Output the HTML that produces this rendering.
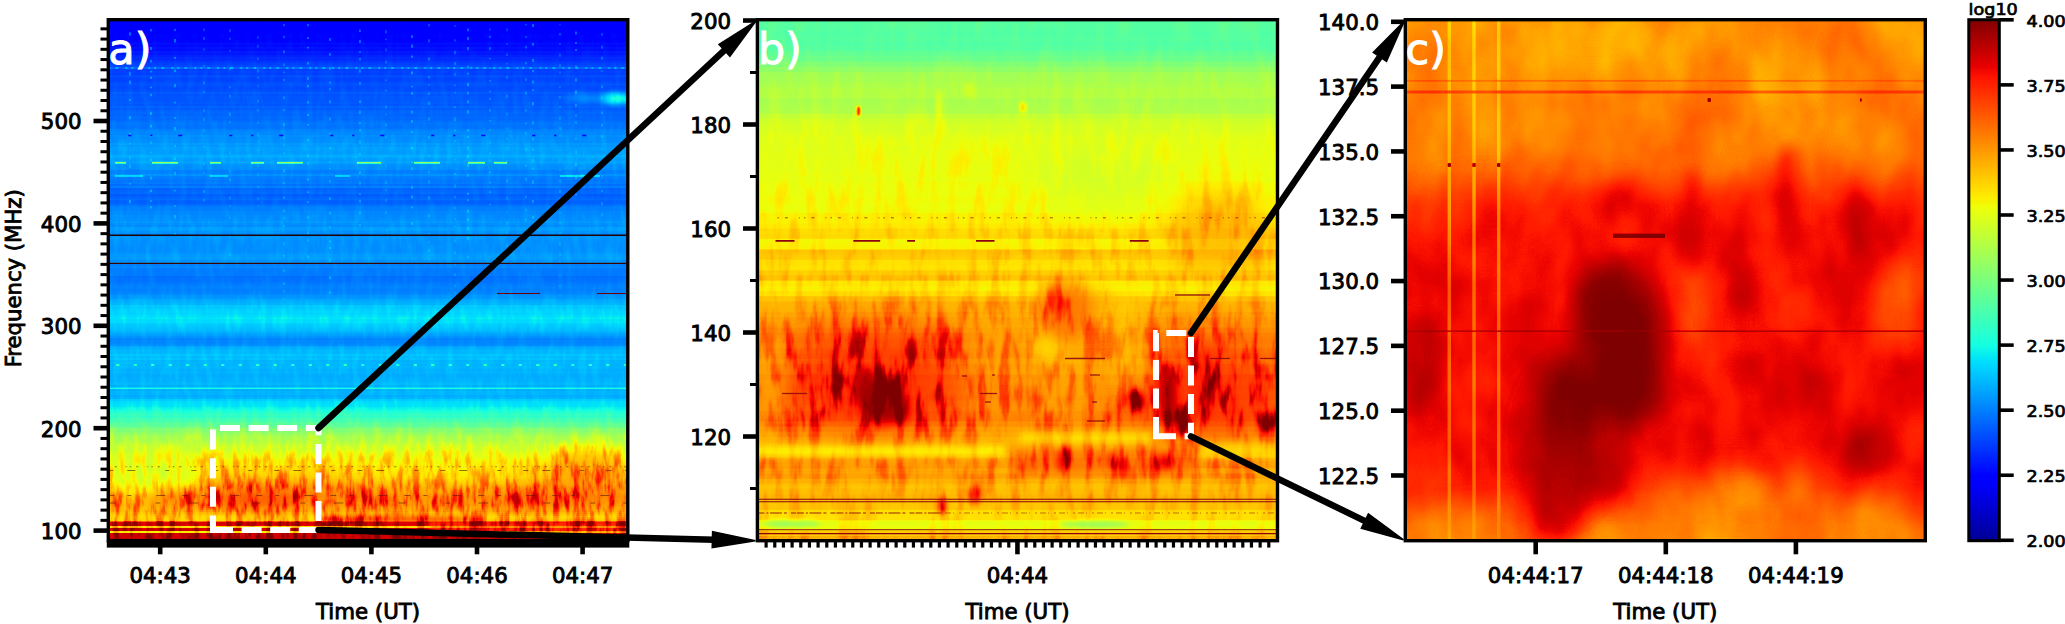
<!DOCTYPE html>
<html><head><meta charset="utf-8"><title>Dynamic spectra</title>
<style>html,body{margin:0;padding:0;background:#fff}svg{display:block}text{font-family:"DejaVu Sans", "Liberation Sans", sans-serif}</style></head><body>
<svg width="2065" height="624" viewBox="0 0 2065 624">
<rect width="2065" height="624" fill="#fff"/>
<defs>
<filter id="bl1" x="-150%" y="-150%" width="400%" height="400%" color-interpolation-filters="sRGB"><feGaussianBlur stdDeviation="1"/></filter>
<filter id="bl2" x="-150%" y="-150%" width="400%" height="400%" color-interpolation-filters="sRGB"><feGaussianBlur stdDeviation="2"/></filter>
<filter id="bl3" x="-150%" y="-150%" width="400%" height="400%" color-interpolation-filters="sRGB"><feGaussianBlur stdDeviation="3"/></filter>
<filter id="bl4" x="-150%" y="-150%" width="400%" height="400%" color-interpolation-filters="sRGB"><feGaussianBlur stdDeviation="4"/></filter>
<filter id="bl6" x="-150%" y="-150%" width="400%" height="400%" color-interpolation-filters="sRGB"><feGaussianBlur stdDeviation="6"/></filter>
<filter id="bl8" x="-150%" y="-150%" width="400%" height="400%" color-interpolation-filters="sRGB"><feGaussianBlur stdDeviation="8"/></filter>
<filter id="bl12" x="-150%" y="-150%" width="400%" height="400%" color-interpolation-filters="sRGB"><feGaussianBlur stdDeviation="12"/></filter>
<filter id="bl16" x="-150%" y="-150%" width="400%" height="400%" color-interpolation-filters="sRGB"><feGaussianBlur stdDeviation="16"/></filter>
<filter id="bl24" x="-150%" y="-150%" width="400%" height="400%" color-interpolation-filters="sRGB"><feGaussianBlur stdDeviation="24"/></filter>
<filter id="bl32" x="-150%" y="-150%" width="400%" height="400%" color-interpolation-filters="sRGB"><feGaussianBlur stdDeviation="32"/></filter>
<linearGradient id="ga" gradientUnits="userSpaceOnUse" x1="0" y1="20" x2="0" y2="541"><stop offset="0.0006" stop-color="#212121"/><stop offset="0.0034" stop-color="#212121"/><stop offset="0.0045" stop-color="#1f1f1f"/><stop offset="0.0073" stop-color="#1f1f1f"/><stop offset="0.0084" stop-color="#1e1e1e"/><stop offset="0.0112" stop-color="#1e1e1e"/><stop offset="0.0124" stop-color="#1f1f1f"/><stop offset="0.0152" stop-color="#1f1f1f"/><stop offset="0.0163" stop-color="#1e1e1e"/><stop offset="0.0191" stop-color="#1e1e1e"/><stop offset="0.0202" stop-color="#1f1f1f"/><stop offset="0.0230" stop-color="#1f1f1f"/><stop offset="0.0242" stop-color="#202020"/><stop offset="0.0270" stop-color="#202020"/><stop offset="0.0281" stop-color="#212121"/><stop offset="0.0309" stop-color="#212121"/><stop offset="0.0321" stop-color="#212121"/><stop offset="0.0348" stop-color="#212121"/><stop offset="0.0360" stop-color="#202020"/><stop offset="0.0388" stop-color="#202020"/><stop offset="0.0399" stop-color="#212121"/><stop offset="0.0427" stop-color="#212121"/><stop offset="0.0439" stop-color="#242424"/><stop offset="0.0466" stop-color="#242424"/><stop offset="0.0478" stop-color="#222222"/><stop offset="0.0506" stop-color="#222222"/><stop offset="0.0517" stop-color="#252525"/><stop offset="0.0545" stop-color="#252525"/><stop offset="0.0557" stop-color="#232323"/><stop offset="0.0584" stop-color="#232323"/><stop offset="0.0596" stop-color="#272727"/><stop offset="0.0624" stop-color="#272727"/><stop offset="0.0635" stop-color="#262626"/><stop offset="0.0663" stop-color="#262626"/><stop offset="0.0675" stop-color="#292929"/><stop offset="0.0702" stop-color="#292929"/><stop offset="0.0714" stop-color="#2b2b2b"/><stop offset="0.0742" stop-color="#2b2b2b"/><stop offset="0.0753" stop-color="#2b2b2b"/><stop offset="0.0781" stop-color="#2b2b2b"/><stop offset="0.0793" stop-color="#2e2e2e"/><stop offset="0.0821" stop-color="#2e2e2e"/><stop offset="0.0832" stop-color="#303030"/><stop offset="0.0860" stop-color="#303030"/><stop offset="0.0871" stop-color="#323232"/><stop offset="0.0899" stop-color="#323232"/><stop offset="0.0911" stop-color="#393939"/><stop offset="0.0939" stop-color="#393939"/><stop offset="0.0950" stop-color="#303030"/><stop offset="0.0978" stop-color="#303030"/><stop offset="0.0989" stop-color="#313131"/><stop offset="0.1017" stop-color="#313131"/><stop offset="0.1029" stop-color="#303030"/><stop offset="0.1057" stop-color="#303030"/><stop offset="0.1068" stop-color="#343434"/><stop offset="0.1096" stop-color="#343434"/><stop offset="0.1107" stop-color="#313131"/><stop offset="0.1135" stop-color="#313131"/><stop offset="0.1147" stop-color="#313131"/><stop offset="0.1175" stop-color="#313131"/><stop offset="0.1186" stop-color="#333333"/><stop offset="0.1214" stop-color="#333333"/><stop offset="0.1226" stop-color="#353535"/><stop offset="0.1253" stop-color="#353535"/><stop offset="0.1265" stop-color="#333333"/><stop offset="0.1293" stop-color="#333333"/><stop offset="0.1304" stop-color="#333333"/><stop offset="0.1332" stop-color="#333333"/><stop offset="0.1344" stop-color="#343434"/><stop offset="0.1371" stop-color="#343434"/><stop offset="0.1383" stop-color="#373737"/><stop offset="0.1411" stop-color="#373737"/><stop offset="0.1422" stop-color="#353535"/><stop offset="0.1450" stop-color="#353535"/><stop offset="0.1462" stop-color="#363636"/><stop offset="0.1489" stop-color="#363636"/><stop offset="0.1501" stop-color="#363636"/><stop offset="0.1529" stop-color="#363636"/><stop offset="0.1540" stop-color="#363636"/><stop offset="0.1568" stop-color="#363636"/><stop offset="0.1580" stop-color="#373737"/><stop offset="0.1607" stop-color="#373737"/><stop offset="0.1619" stop-color="#363636"/><stop offset="0.1647" stop-color="#363636"/><stop offset="0.1658" stop-color="#393939"/><stop offset="0.1686" stop-color="#393939"/><stop offset="0.1698" stop-color="#373737"/><stop offset="0.1726" stop-color="#373737"/><stop offset="0.1737" stop-color="#393939"/><stop offset="0.1765" stop-color="#393939"/><stop offset="0.1776" stop-color="#3a3a3a"/><stop offset="0.1804" stop-color="#3a3a3a"/><stop offset="0.1816" stop-color="#393939"/><stop offset="0.1844" stop-color="#393939"/><stop offset="0.1855" stop-color="#3b3b3b"/><stop offset="0.1883" stop-color="#3b3b3b"/><stop offset="0.1894" stop-color="#3a3a3a"/><stop offset="0.1922" stop-color="#3a3a3a"/><stop offset="0.1934" stop-color="#3c3c3c"/><stop offset="0.1962" stop-color="#3c3c3c"/><stop offset="0.1973" stop-color="#3e3e3e"/><stop offset="0.2001" stop-color="#3e3e3e"/><stop offset="0.2012" stop-color="#3d3d3d"/><stop offset="0.2040" stop-color="#3d3d3d"/><stop offset="0.2052" stop-color="#3d3d3d"/><stop offset="0.2080" stop-color="#3d3d3d"/><stop offset="0.2091" stop-color="#404040"/><stop offset="0.2119" stop-color="#404040"/><stop offset="0.2131" stop-color="#424242"/><stop offset="0.2158" stop-color="#424242"/><stop offset="0.2170" stop-color="#424242"/><stop offset="0.2198" stop-color="#424242"/><stop offset="0.2209" stop-color="#444444"/><stop offset="0.2237" stop-color="#444444"/><stop offset="0.2249" stop-color="#434343"/><stop offset="0.2276" stop-color="#434343"/><stop offset="0.2288" stop-color="#444444"/><stop offset="0.2316" stop-color="#444444"/><stop offset="0.2327" stop-color="#444444"/><stop offset="0.2355" stop-color="#444444"/><stop offset="0.2367" stop-color="#474747"/><stop offset="0.2394" stop-color="#474747"/><stop offset="0.2406" stop-color="#464646"/><stop offset="0.2434" stop-color="#464646"/><stop offset="0.2445" stop-color="#484848"/><stop offset="0.2473" stop-color="#484848"/><stop offset="0.2485" stop-color="#484848"/><stop offset="0.2512" stop-color="#484848"/><stop offset="0.2524" stop-color="#474747"/><stop offset="0.2552" stop-color="#474747"/><stop offset="0.2563" stop-color="#484848"/><stop offset="0.2591" stop-color="#484848"/><stop offset="0.2603" stop-color="#4c4c4c"/><stop offset="0.2631" stop-color="#4c4c4c"/><stop offset="0.2642" stop-color="#484848"/><stop offset="0.2670" stop-color="#484848"/><stop offset="0.2681" stop-color="#474747"/><stop offset="0.2709" stop-color="#474747"/><stop offset="0.2721" stop-color="#494949"/><stop offset="0.2749" stop-color="#494949"/><stop offset="0.2760" stop-color="#454545"/><stop offset="0.2788" stop-color="#454545"/><stop offset="0.2799" stop-color="#444444"/><stop offset="0.2827" stop-color="#444444"/><stop offset="0.2839" stop-color="#444444"/><stop offset="0.2867" stop-color="#444444"/><stop offset="0.2878" stop-color="#404040"/><stop offset="0.2906" stop-color="#404040"/><stop offset="0.2917" stop-color="#404040"/><stop offset="0.2945" stop-color="#404040"/><stop offset="0.2957" stop-color="#444444"/><stop offset="0.2985" stop-color="#444444"/><stop offset="0.2996" stop-color="#404040"/><stop offset="0.3024" stop-color="#404040"/><stop offset="0.3036" stop-color="#3f3f3f"/><stop offset="0.3063" stop-color="#3f3f3f"/><stop offset="0.3075" stop-color="#3e3e3e"/><stop offset="0.3103" stop-color="#3e3e3e"/><stop offset="0.3114" stop-color="#3f3f3f"/><stop offset="0.3142" stop-color="#3f3f3f"/><stop offset="0.3154" stop-color="#3c3c3c"/><stop offset="0.3181" stop-color="#3c3c3c"/><stop offset="0.3193" stop-color="#404040"/><stop offset="0.3221" stop-color="#404040"/><stop offset="0.3232" stop-color="#393939"/><stop offset="0.3260" stop-color="#393939"/><stop offset="0.3272" stop-color="#3a3a3a"/><stop offset="0.3299" stop-color="#3a3a3a"/><stop offset="0.3311" stop-color="#3b3b3b"/><stop offset="0.3339" stop-color="#3b3b3b"/><stop offset="0.3350" stop-color="#373737"/><stop offset="0.3378" stop-color="#373737"/><stop offset="0.3390" stop-color="#393939"/><stop offset="0.3417" stop-color="#393939"/><stop offset="0.3429" stop-color="#3b3b3b"/><stop offset="0.3457" stop-color="#3b3b3b"/><stop offset="0.3468" stop-color="#383838"/><stop offset="0.3496" stop-color="#383838"/><stop offset="0.3508" stop-color="#393939"/><stop offset="0.3536" stop-color="#393939"/><stop offset="0.3547" stop-color="#3d3d3d"/><stop offset="0.3575" stop-color="#3d3d3d"/><stop offset="0.3586" stop-color="#404040"/><stop offset="0.3614" stop-color="#404040"/><stop offset="0.3626" stop-color="#404040"/><stop offset="0.3654" stop-color="#404040"/><stop offset="0.3665" stop-color="#424242"/><stop offset="0.3693" stop-color="#424242"/><stop offset="0.3704" stop-color="#424242"/><stop offset="0.3732" stop-color="#424242"/><stop offset="0.3744" stop-color="#434343"/><stop offset="0.3772" stop-color="#434343"/><stop offset="0.3783" stop-color="#434343"/><stop offset="0.3811" stop-color="#434343"/><stop offset="0.3822" stop-color="#444444"/><stop offset="0.3850" stop-color="#444444"/><stop offset="0.3862" stop-color="#464646"/><stop offset="0.3890" stop-color="#464646"/><stop offset="0.3901" stop-color="#444444"/><stop offset="0.3929" stop-color="#444444"/><stop offset="0.3940" stop-color="#434343"/><stop offset="0.3968" stop-color="#434343"/><stop offset="0.3980" stop-color="#474747"/><stop offset="0.4008" stop-color="#474747"/><stop offset="0.4019" stop-color="#474747"/><stop offset="0.4047" stop-color="#474747"/><stop offset="0.4059" stop-color="#444444"/><stop offset="0.4086" stop-color="#444444"/><stop offset="0.4098" stop-color="#434343"/><stop offset="0.4126" stop-color="#434343"/><stop offset="0.4137" stop-color="#434343"/><stop offset="0.4165" stop-color="#434343"/><stop offset="0.4177" stop-color="#464646"/><stop offset="0.4204" stop-color="#464646"/><stop offset="0.4216" stop-color="#444444"/><stop offset="0.4244" stop-color="#444444"/><stop offset="0.4255" stop-color="#444444"/><stop offset="0.4283" stop-color="#444444"/><stop offset="0.4295" stop-color="#444444"/><stop offset="0.4322" stop-color="#444444"/><stop offset="0.4334" stop-color="#444444"/><stop offset="0.4362" stop-color="#444444"/><stop offset="0.4373" stop-color="#444444"/><stop offset="0.4401" stop-color="#444444"/><stop offset="0.4413" stop-color="#444444"/><stop offset="0.4440" stop-color="#444444"/><stop offset="0.4452" stop-color="#454545"/><stop offset="0.4480" stop-color="#454545"/><stop offset="0.4491" stop-color="#474747"/><stop offset="0.4519" stop-color="#474747"/><stop offset="0.4531" stop-color="#474747"/><stop offset="0.4559" stop-color="#474747"/><stop offset="0.4570" stop-color="#474747"/><stop offset="0.4598" stop-color="#474747"/><stop offset="0.4609" stop-color="#444444"/><stop offset="0.4637" stop-color="#444444"/><stop offset="0.4649" stop-color="#484848"/><stop offset="0.4677" stop-color="#484848"/><stop offset="0.4688" stop-color="#404040"/><stop offset="0.4716" stop-color="#404040"/><stop offset="0.4727" stop-color="#424242"/><stop offset="0.4755" stop-color="#424242"/><stop offset="0.4767" stop-color="#3f3f3f"/><stop offset="0.4795" stop-color="#3f3f3f"/><stop offset="0.4806" stop-color="#3f3f3f"/><stop offset="0.4834" stop-color="#3f3f3f"/><stop offset="0.4845" stop-color="#3f3f3f"/><stop offset="0.4873" stop-color="#3f3f3f"/><stop offset="0.4885" stop-color="#3f3f3f"/><stop offset="0.4913" stop-color="#3f3f3f"/><stop offset="0.4924" stop-color="#3c3c3c"/><stop offset="0.4952" stop-color="#3c3c3c"/><stop offset="0.4964" stop-color="#3d3d3d"/><stop offset="0.4991" stop-color="#3d3d3d"/><stop offset="0.5003" stop-color="#3d3d3d"/><stop offset="0.5031" stop-color="#3d3d3d"/><stop offset="0.5042" stop-color="#3f3f3f"/><stop offset="0.5070" stop-color="#3f3f3f"/><stop offset="0.5082" stop-color="#404040"/><stop offset="0.5109" stop-color="#404040"/><stop offset="0.5121" stop-color="#414141"/><stop offset="0.5149" stop-color="#414141"/><stop offset="0.5160" stop-color="#404040"/><stop offset="0.5188" stop-color="#404040"/><stop offset="0.5200" stop-color="#414141"/><stop offset="0.5227" stop-color="#414141"/><stop offset="0.5239" stop-color="#424242"/><stop offset="0.5267" stop-color="#424242"/><stop offset="0.5278" stop-color="#454545"/><stop offset="0.5306" stop-color="#454545"/><stop offset="0.5318" stop-color="#464646"/><stop offset="0.5345" stop-color="#464646"/><stop offset="0.5357" stop-color="#4a4a4a"/><stop offset="0.5385" stop-color="#4a4a4a"/><stop offset="0.5396" stop-color="#4c4c4c"/><stop offset="0.5424" stop-color="#4c4c4c"/><stop offset="0.5436" stop-color="#4d4d4d"/><stop offset="0.5464" stop-color="#4d4d4d"/><stop offset="0.5475" stop-color="#525252"/><stop offset="0.5503" stop-color="#525252"/><stop offset="0.5514" stop-color="#525252"/><stop offset="0.5542" stop-color="#525252"/><stop offset="0.5554" stop-color="#545454"/><stop offset="0.5582" stop-color="#545454"/><stop offset="0.5593" stop-color="#555555"/><stop offset="0.5621" stop-color="#555555"/><stop offset="0.5632" stop-color="#555555"/><stop offset="0.5660" stop-color="#555555"/><stop offset="0.5672" stop-color="#575757"/><stop offset="0.5700" stop-color="#575757"/><stop offset="0.5711" stop-color="#5a5a5a"/><stop offset="0.5739" stop-color="#5a5a5a"/><stop offset="0.5750" stop-color="#575757"/><stop offset="0.5778" stop-color="#575757"/><stop offset="0.5790" stop-color="#575757"/><stop offset="0.5818" stop-color="#575757"/><stop offset="0.5829" stop-color="#535353"/><stop offset="0.5857" stop-color="#535353"/><stop offset="0.5869" stop-color="#525252"/><stop offset="0.5896" stop-color="#525252"/><stop offset="0.5908" stop-color="#505050"/><stop offset="0.5936" stop-color="#505050"/><stop offset="0.5947" stop-color="#4f4f4f"/><stop offset="0.5975" stop-color="#4f4f4f"/><stop offset="0.5987" stop-color="#4b4b4b"/><stop offset="0.6014" stop-color="#4b4b4b"/><stop offset="0.6026" stop-color="#484848"/><stop offset="0.6054" stop-color="#484848"/><stop offset="0.6065" stop-color="#454545"/><stop offset="0.6093" stop-color="#454545"/><stop offset="0.6105" stop-color="#414141"/><stop offset="0.6132" stop-color="#414141"/><stop offset="0.6144" stop-color="#424242"/><stop offset="0.6172" stop-color="#424242"/><stop offset="0.6183" stop-color="#424242"/><stop offset="0.6211" stop-color="#424242"/><stop offset="0.6223" stop-color="#434343"/><stop offset="0.6250" stop-color="#434343"/><stop offset="0.6262" stop-color="#4a4a4a"/><stop offset="0.6290" stop-color="#4a4a4a"/><stop offset="0.6301" stop-color="#4c4c4c"/><stop offset="0.6329" stop-color="#4c4c4c"/><stop offset="0.6341" stop-color="#4e4e4e"/><stop offset="0.6369" stop-color="#4e4e4e"/><stop offset="0.6380" stop-color="#4e4e4e"/><stop offset="0.6408" stop-color="#4e4e4e"/><stop offset="0.6419" stop-color="#515151"/><stop offset="0.6447" stop-color="#515151"/><stop offset="0.6459" stop-color="#4f4f4f"/><stop offset="0.6487" stop-color="#4f4f4f"/><stop offset="0.6498" stop-color="#505050"/><stop offset="0.6526" stop-color="#505050"/><stop offset="0.6537" stop-color="#4d4d4d"/><stop offset="0.6565" stop-color="#4d4d4d"/><stop offset="0.6577" stop-color="#4e4e4e"/><stop offset="0.6605" stop-color="#4e4e4e"/><stop offset="0.6616" stop-color="#4d4d4d"/><stop offset="0.6644" stop-color="#4d4d4d"/><stop offset="0.6655" stop-color="#4e4e4e"/><stop offset="0.6683" stop-color="#4e4e4e"/><stop offset="0.6695" stop-color="#4c4c4c"/><stop offset="0.6723" stop-color="#4c4c4c"/><stop offset="0.6734" stop-color="#4d4d4d"/><stop offset="0.6762" stop-color="#4d4d4d"/><stop offset="0.6774" stop-color="#4c4c4c"/><stop offset="0.6801" stop-color="#4c4c4c"/><stop offset="0.6813" stop-color="#4b4b4b"/><stop offset="0.6841" stop-color="#4b4b4b"/><stop offset="0.6852" stop-color="#4c4c4c"/><stop offset="0.6880" stop-color="#4c4c4c"/><stop offset="0.6892" stop-color="#4c4c4c"/><stop offset="0.6919" stop-color="#4c4c4c"/><stop offset="0.6931" stop-color="#4d4d4d"/><stop offset="0.6959" stop-color="#4d4d4d"/><stop offset="0.6970" stop-color="#4e4e4e"/><stop offset="0.6998" stop-color="#4e4e4e"/><stop offset="0.7010" stop-color="#4c4c4c"/><stop offset="0.7037" stop-color="#4c4c4c"/><stop offset="0.7049" stop-color="#4d4d4d"/><stop offset="0.7077" stop-color="#4d4d4d"/><stop offset="0.7088" stop-color="#4c4c4c"/><stop offset="0.7116" stop-color="#4c4c4c"/><stop offset="0.7128" stop-color="#4d4d4d"/><stop offset="0.7155" stop-color="#4d4d4d"/><stop offset="0.7167" stop-color="#4d4d4d"/><stop offset="0.7195" stop-color="#4d4d4d"/><stop offset="0.7206" stop-color="#4b4b4b"/><stop offset="0.7234" stop-color="#4b4b4b"/><stop offset="0.7246" stop-color="#4d4d4d"/><stop offset="0.7274" stop-color="#4d4d4d"/><stop offset="0.7285" stop-color="#535353"/><stop offset="0.7313" stop-color="#535353"/><stop offset="0.7324" stop-color="#575757"/><stop offset="0.7352" stop-color="#575757"/><stop offset="0.7364" stop-color="#585858"/><stop offset="0.7392" stop-color="#585858"/><stop offset="0.7403" stop-color="#5a5a5a"/><stop offset="0.7431" stop-color="#5a5a5a"/><stop offset="0.7442" stop-color="#5e5e5e"/><stop offset="0.7470" stop-color="#5e5e5e"/><stop offset="0.7482" stop-color="#616161"/><stop offset="0.7510" stop-color="#616161"/><stop offset="0.7521" stop-color="#656565"/><stop offset="0.7549" stop-color="#656565"/><stop offset="0.7560" stop-color="#696969"/><stop offset="0.7588" stop-color="#696969"/><stop offset="0.7600" stop-color="#686868"/><stop offset="0.7628" stop-color="#686868"/><stop offset="0.7639" stop-color="#6d6d6d"/><stop offset="0.7667" stop-color="#6d6d6d"/><stop offset="0.7679" stop-color="#6f6f6f"/><stop offset="0.7706" stop-color="#6f6f6f"/><stop offset="0.7718" stop-color="#747474"/><stop offset="0.7746" stop-color="#747474"/><stop offset="0.7757" stop-color="#767676"/><stop offset="0.7785" stop-color="#767676"/><stop offset="0.7797" stop-color="#7a7a7a"/><stop offset="0.7824" stop-color="#7a7a7a"/><stop offset="0.7836" stop-color="#838383"/><stop offset="0.7864" stop-color="#838383"/><stop offset="0.7875" stop-color="#848484"/><stop offset="0.7903" stop-color="#848484"/><stop offset="0.7915" stop-color="#878787"/><stop offset="0.7942" stop-color="#878787"/><stop offset="0.7954" stop-color="#8b8b8b"/><stop offset="0.7982" stop-color="#8b8b8b"/><stop offset="0.7993" stop-color="#8f8f8f"/><stop offset="0.8021" stop-color="#8f8f8f"/><stop offset="0.8033" stop-color="#909090"/><stop offset="0.8060" stop-color="#909090"/><stop offset="0.8072" stop-color="#919191"/><stop offset="0.8100" stop-color="#919191"/><stop offset="0.8111" stop-color="#959595"/><stop offset="0.8139" stop-color="#959595"/><stop offset="0.8151" stop-color="#979797"/><stop offset="0.8179" stop-color="#979797"/><stop offset="0.8190" stop-color="#9a9a9a"/><stop offset="0.8218" stop-color="#9a9a9a"/><stop offset="0.8229" stop-color="#9a9a9a"/><stop offset="0.8257" stop-color="#9a9a9a"/><stop offset="0.8269" stop-color="#9e9e9e"/><stop offset="0.8297" stop-color="#9e9e9e"/><stop offset="0.8308" stop-color="#a1a1a1"/><stop offset="0.8336" stop-color="#a1a1a1"/><stop offset="0.8347" stop-color="#a4a4a4"/><stop offset="0.8375" stop-color="#a4a4a4"/><stop offset="0.8387" stop-color="#a6a6a6"/><stop offset="0.8415" stop-color="#a6a6a6"/><stop offset="0.8426" stop-color="#a9a9a9"/><stop offset="0.8454" stop-color="#a9a9a9"/><stop offset="0.8465" stop-color="#ababab"/><stop offset="0.8493" stop-color="#ababab"/><stop offset="0.8505" stop-color="#acacac"/><stop offset="0.8533" stop-color="#acacac"/><stop offset="0.8544" stop-color="#b0b0b0"/><stop offset="0.8572" stop-color="#b0b0b0"/><stop offset="0.8583" stop-color="#b1b1b1"/><stop offset="0.8611" stop-color="#b1b1b1"/><stop offset="0.8623" stop-color="#b3b3b3"/><stop offset="0.8651" stop-color="#b3b3b3"/><stop offset="0.8662" stop-color="#b4b4b4"/><stop offset="0.8690" stop-color="#b4b4b4"/><stop offset="0.8702" stop-color="#b6b6b6"/><stop offset="0.8729" stop-color="#b6b6b6"/><stop offset="0.8741" stop-color="#b8b8b8"/><stop offset="0.8769" stop-color="#b8b8b8"/><stop offset="0.8780" stop-color="#bababa"/><stop offset="0.8808" stop-color="#bababa"/><stop offset="0.8820" stop-color="#bebebe"/><stop offset="0.8847" stop-color="#bebebe"/><stop offset="0.8859" stop-color="#c1c1c1"/><stop offset="0.8887" stop-color="#c1c1c1"/><stop offset="0.8898" stop-color="#c4c4c4"/><stop offset="0.8926" stop-color="#c4c4c4"/><stop offset="0.8938" stop-color="#c8c8c8"/><stop offset="0.8965" stop-color="#c8c8c8"/><stop offset="0.8977" stop-color="#cbcbcb"/><stop offset="0.9005" stop-color="#cbcbcb"/><stop offset="0.9016" stop-color="#cbcbcb"/><stop offset="0.9044" stop-color="#cbcbcb"/><stop offset="0.9056" stop-color="#cbcbcb"/><stop offset="0.9083" stop-color="#cbcbcb"/><stop offset="0.9095" stop-color="#cdcdcd"/><stop offset="0.9123" stop-color="#cdcdcd"/><stop offset="0.9134" stop-color="#cfcfcf"/><stop offset="0.9162" stop-color="#cfcfcf"/><stop offset="0.9174" stop-color="#cdcdcd"/><stop offset="0.9202" stop-color="#cdcdcd"/><stop offset="0.9213" stop-color="#cdcdcd"/><stop offset="0.9241" stop-color="#cdcdcd"/><stop offset="0.9252" stop-color="#cbcbcb"/><stop offset="0.9280" stop-color="#cbcbcb"/><stop offset="0.9292" stop-color="#cacaca"/><stop offset="0.9320" stop-color="#cacaca"/><stop offset="0.9331" stop-color="#c6c6c6"/><stop offset="0.9359" stop-color="#c6c6c6"/><stop offset="0.9370" stop-color="#c3c3c3"/><stop offset="0.9398" stop-color="#c3c3c3"/><stop offset="0.9410" stop-color="#c1c1c1"/><stop offset="0.9438" stop-color="#c1c1c1"/><stop offset="0.9449" stop-color="#bcbcbc"/><stop offset="0.9477" stop-color="#bcbcbc"/><stop offset="0.9488" stop-color="#b8b8b8"/><stop offset="0.9516" stop-color="#b8b8b8"/><stop offset="0.9528" stop-color="#b5b5b5"/><stop offset="0.9556" stop-color="#b5b5b5"/><stop offset="0.9567" stop-color="#b5b5b5"/><stop offset="0.9595" stop-color="#b5b5b5"/><stop offset="0.9616" stop-color="#b5b5b5"/><stop offset="0.9635" stop-color="#f2f2f2"/><stop offset="0.9702" stop-color="#f2f2f2"/><stop offset="0.9712" stop-color="#b2b2b2"/><stop offset="0.9750" stop-color="#b2b2b2"/><stop offset="0.9760" stop-color="#f2f2f2"/><stop offset="0.9808" stop-color="#f2f2f2"/><stop offset="0.9818" stop-color="#a8a8a8"/><stop offset="0.9846" stop-color="#a8a8a8"/><stop offset="0.9856" stop-color="#f2f2f2"/><stop offset="1.0000" stop-color="#f5f5f5"/></linearGradient>
<clipPath id="ca"><rect x="108.3" y="19.7" width="519.5" height="521"/></clipPath>
<filter id="ja" filterUnits="userSpaceOnUse" x="106.3" y="17.7" width="523.5" height="525" color-interpolation-filters="sRGB"><feTurbulence type="fractalNoise" baseFrequency="0.15 0.045" numOctaves="3" seed="3" result="n0"/><feColorMatrix in="n0" type="matrix" values="1 0 0 0 0  1 0 0 0 0  1 0 0 0 0  0 0 0 0 1" result="n1"/><feComponentTransfer in="n1" result="n1"><feFuncR type="table" tableValues="0.000 0.000 0.000 0.000 0.050 0.250 0.600 0.900 1.000 1.000 1.000"/><feFuncG type="table" tableValues="0.000 0.000 0.000 0.000 0.050 0.250 0.600 0.900 1.000 1.000 1.000"/><feFuncB type="table" tableValues="0.000 0.000 0.000 0.000 0.050 0.250 0.600 0.900 1.000 1.000 1.000"/></feComponentTransfer><feComponentTransfer in="SourceGraphic" result="m"><feFuncR type="table" tableValues="0.000 0.010 0.012 0.018 0.030 0.040 0.060 0.120 0.190 0.170 0.050"/><feFuncG type="table" tableValues="0.000 0.010 0.012 0.018 0.030 0.040 0.060 0.120 0.190 0.170 0.050"/><feFuncB type="table" tableValues="0.000 0.010 0.012 0.018 0.030 0.040 0.060 0.120 0.190 0.170 0.050"/></feComponentTransfer><feComposite in="m" in2="n1" operator="arithmetic" k1="1" k2="0" k3="0" k4="0" result="t"/><feComposite in="SourceGraphic" in2="m" operator="arithmetic" k1="0" k2="1" k3="-0.27" k4="0" result="u"/><feComposite in="u" in2="t" operator="arithmetic" k1="0" k2="1" k3="1" k4="0" result="r"/><feComponentTransfer in="r"><feFuncR type="table" tableValues="0.000 0.000 0.000 0.000 0.000 0.000 0.000 0.000 0.000 0.000 0.000 0.000 0.000 0.000 0.000 0.000 0.000 0.000 0.000 0.000 0.000 0.000 0.000 0.000 0.000 0.000 0.000 0.000 0.000 0.040 0.081 0.121 0.161 0.202 0.242 0.282 0.323 0.363 0.403 0.444 0.484 0.524 0.565 0.605 0.645 0.685 0.726 0.766 0.806 0.847 0.887 0.927 0.968 1.000 1.000 1.000 1.000 1.000 1.000 1.000 1.000 1.000 1.000 1.000 1.000 1.000 1.000 1.000 1.000 1.000 1.000 1.000 0.955 0.898 0.841 0.784 0.727 0.670 0.614 0.557 0.500"/><feFuncG type="table" tableValues="0.000 0.000 0.000 0.000 0.000 0.000 0.000 0.000 0.000 0.000 0.000 0.050 0.100 0.150 0.200 0.250 0.300 0.350 0.400 0.450 0.500 0.550 0.600 0.650 0.700 0.750 0.800 0.850 0.900 0.950 1.000 1.000 1.000 1.000 1.000 1.000 1.000 1.000 1.000 1.000 1.000 1.000 1.000 1.000 1.000 1.000 1.000 1.000 1.000 1.000 1.000 1.000 0.963 0.917 0.870 0.824 0.778 0.731 0.685 0.639 0.593 0.546 0.500 0.454 0.407 0.361 0.315 0.269 0.222 0.176 0.130 0.083 0.037 0.000 0.000 0.000 0.000 0.000 0.000 0.000 0.000"/><feFuncB type="table" tableValues="0.500 0.557 0.614 0.670 0.727 0.784 0.841 0.898 0.955 1.000 1.000 1.000 1.000 1.000 1.000 1.000 1.000 1.000 1.000 1.000 1.000 1.000 1.000 1.000 1.000 1.000 1.000 1.000 0.968 0.927 0.887 0.847 0.806 0.766 0.726 0.685 0.645 0.605 0.565 0.524 0.484 0.444 0.403 0.363 0.323 0.282 0.242 0.202 0.161 0.121 0.081 0.040 0.000 0.000 0.000 0.000 0.000 0.000 0.000 0.000 0.000 0.000 0.000 0.000 0.000 0.000 0.000 0.000 0.000 0.000 0.000 0.000 0.000 0.000 0.000 0.000 0.000 0.000 0.000 0.000 0.000"/><feFuncA type="linear" slope="0" intercept="1"/></feComponentTransfer></filter>
<linearGradient id="gb" gradientUnits="userSpaceOnUse" x1="0" y1="20" x2="0" y2="541"><stop offset="0.0012" stop-color="#747474"/><stop offset="0.0088" stop-color="#747474"/><stop offset="0.0112" stop-color="#747474"/><stop offset="0.0188" stop-color="#747474"/><stop offset="0.0212" stop-color="#737373"/><stop offset="0.0288" stop-color="#737373"/><stop offset="0.0312" stop-color="#747474"/><stop offset="0.0388" stop-color="#747474"/><stop offset="0.0412" stop-color="#737373"/><stop offset="0.0488" stop-color="#737373"/><stop offset="0.0512" stop-color="#747474"/><stop offset="0.0589" stop-color="#747474"/><stop offset="0.0612" stop-color="#787878"/><stop offset="0.0689" stop-color="#787878"/><stop offset="0.0712" stop-color="#7b7b7b"/><stop offset="0.0789" stop-color="#7b7b7b"/><stop offset="0.0812" stop-color="#818181"/><stop offset="0.0889" stop-color="#818181"/><stop offset="0.0912" stop-color="#868686"/><stop offset="0.0989" stop-color="#868686"/><stop offset="0.1012" stop-color="#8c8c8c"/><stop offset="0.1089" stop-color="#8c8c8c"/><stop offset="0.1112" stop-color="#8d8d8d"/><stop offset="0.1189" stop-color="#8d8d8d"/><stop offset="0.1212" stop-color="#8f8f8f"/><stop offset="0.1289" stop-color="#8f8f8f"/><stop offset="0.1312" stop-color="#919191"/><stop offset="0.1389" stop-color="#919191"/><stop offset="0.1412" stop-color="#919191"/><stop offset="0.1489" stop-color="#919191"/><stop offset="0.1512" stop-color="#8e8e8e"/><stop offset="0.1589" stop-color="#8e8e8e"/><stop offset="0.1612" stop-color="#8f8f8f"/><stop offset="0.1689" stop-color="#8f8f8f"/><stop offset="0.1712" stop-color="#909090"/><stop offset="0.1789" stop-color="#909090"/><stop offset="0.1812" stop-color="#969696"/><stop offset="0.1889" stop-color="#969696"/><stop offset="0.1912" stop-color="#9a9a9a"/><stop offset="0.1989" stop-color="#9a9a9a"/><stop offset="0.2012" stop-color="#9c9c9c"/><stop offset="0.2089" stop-color="#9c9c9c"/><stop offset="0.2113" stop-color="#9d9d9d"/><stop offset="0.2189" stop-color="#9d9d9d"/><stop offset="0.2213" stop-color="#9f9f9f"/><stop offset="0.2289" stop-color="#9f9f9f"/><stop offset="0.2313" stop-color="#a0a0a0"/><stop offset="0.2389" stop-color="#a0a0a0"/><stop offset="0.2413" stop-color="#a0a0a0"/><stop offset="0.2489" stop-color="#a0a0a0"/><stop offset="0.2513" stop-color="#a1a1a1"/><stop offset="0.2589" stop-color="#a1a1a1"/><stop offset="0.2613" stop-color="#a2a2a2"/><stop offset="0.2690" stop-color="#a2a2a2"/><stop offset="0.2713" stop-color="#a2a2a2"/><stop offset="0.2790" stop-color="#a2a2a2"/><stop offset="0.2813" stop-color="#a2a2a2"/><stop offset="0.2890" stop-color="#a2a2a2"/><stop offset="0.2913" stop-color="#a3a3a3"/><stop offset="0.2990" stop-color="#a3a3a3"/><stop offset="0.3013" stop-color="#a2a2a2"/><stop offset="0.3090" stop-color="#a2a2a2"/><stop offset="0.3113" stop-color="#a4a4a4"/><stop offset="0.3190" stop-color="#a4a4a4"/><stop offset="0.3213" stop-color="#a4a4a4"/><stop offset="0.3290" stop-color="#a4a4a4"/><stop offset="0.3313" stop-color="#a4a4a4"/><stop offset="0.3390" stop-color="#a4a4a4"/><stop offset="0.3413" stop-color="#a5a5a5"/><stop offset="0.3490" stop-color="#a5a5a5"/><stop offset="0.3513" stop-color="#a4a4a4"/><stop offset="0.3590" stop-color="#a4a4a4"/><stop offset="0.3613" stop-color="#a4a4a4"/><stop offset="0.3690" stop-color="#a4a4a4"/><stop offset="0.3713" stop-color="#a8a8a8"/><stop offset="0.3790" stop-color="#a8a8a8"/><stop offset="0.3813" stop-color="#a8a8a8"/><stop offset="0.3890" stop-color="#a8a8a8"/><stop offset="0.3913" stop-color="#aaaaaa"/><stop offset="0.3990" stop-color="#aaaaaa"/><stop offset="0.4013" stop-color="#aeaeae"/><stop offset="0.4090" stop-color="#aeaeae"/><stop offset="0.4113" stop-color="#afafaf"/><stop offset="0.4190" stop-color="#afafaf"/><stop offset="0.4214" stop-color="#a7a7a7"/><stop offset="0.4290" stop-color="#a7a7a7"/><stop offset="0.4314" stop-color="#a8a8a8"/><stop offset="0.4390" stop-color="#a8a8a8"/><stop offset="0.4414" stop-color="#b4b4b4"/><stop offset="0.4490" stop-color="#b4b4b4"/><stop offset="0.4514" stop-color="#b2b2b2"/><stop offset="0.4590" stop-color="#b2b2b2"/><stop offset="0.4614" stop-color="#adadad"/><stop offset="0.4690" stop-color="#adadad"/><stop offset="0.4714" stop-color="#acacac"/><stop offset="0.4791" stop-color="#acacac"/><stop offset="0.4814" stop-color="#b1b1b1"/><stop offset="0.4891" stop-color="#b1b1b1"/><stop offset="0.4914" stop-color="#b5b5b5"/><stop offset="0.4991" stop-color="#b5b5b5"/><stop offset="0.5014" stop-color="#aaaaaa"/><stop offset="0.5091" stop-color="#aaaaaa"/><stop offset="0.5114" stop-color="#a8a8a8"/><stop offset="0.5191" stop-color="#a8a8a8"/><stop offset="0.5214" stop-color="#acacac"/><stop offset="0.5291" stop-color="#acacac"/><stop offset="0.5314" stop-color="#b5b5b5"/><stop offset="0.5391" stop-color="#b5b5b5"/><stop offset="0.5414" stop-color="#bababa"/><stop offset="0.5491" stop-color="#bababa"/><stop offset="0.5514" stop-color="#bbbbbb"/><stop offset="0.5591" stop-color="#bbbbbb"/><stop offset="0.5614" stop-color="#bebebe"/><stop offset="0.5691" stop-color="#bebebe"/><stop offset="0.5714" stop-color="#c1c1c1"/><stop offset="0.5791" stop-color="#c1c1c1"/><stop offset="0.5814" stop-color="#c2c2c2"/><stop offset="0.5891" stop-color="#c2c2c2"/><stop offset="0.5914" stop-color="#c6c6c6"/><stop offset="0.5991" stop-color="#c6c6c6"/><stop offset="0.6014" stop-color="#cacaca"/><stop offset="0.6091" stop-color="#cacaca"/><stop offset="0.6114" stop-color="#cbcbcb"/><stop offset="0.6191" stop-color="#cbcbcb"/><stop offset="0.6214" stop-color="#c9c9c9"/><stop offset="0.6291" stop-color="#c9c9c9"/><stop offset="0.6315" stop-color="#cccccc"/><stop offset="0.6391" stop-color="#cccccc"/><stop offset="0.6415" stop-color="#cecece"/><stop offset="0.6491" stop-color="#cecece"/><stop offset="0.6515" stop-color="#c8c8c8"/><stop offset="0.6591" stop-color="#c8c8c8"/><stop offset="0.6615" stop-color="#cccccc"/><stop offset="0.6691" stop-color="#cccccc"/><stop offset="0.6715" stop-color="#cbcbcb"/><stop offset="0.6792" stop-color="#cbcbcb"/><stop offset="0.6815" stop-color="#d2d2d2"/><stop offset="0.6892" stop-color="#d2d2d2"/><stop offset="0.6915" stop-color="#d0d0d0"/><stop offset="0.6992" stop-color="#d0d0d0"/><stop offset="0.7015" stop-color="#d2d2d2"/><stop offset="0.7092" stop-color="#d2d2d2"/><stop offset="0.7115" stop-color="#d1d1d1"/><stop offset="0.7192" stop-color="#d1d1d1"/><stop offset="0.7215" stop-color="#d3d3d3"/><stop offset="0.7292" stop-color="#d3d3d3"/><stop offset="0.7315" stop-color="#d0d0d0"/><stop offset="0.7392" stop-color="#d0d0d0"/><stop offset="0.7415" stop-color="#cfcfcf"/><stop offset="0.7492" stop-color="#cfcfcf"/><stop offset="0.7515" stop-color="#d2d2d2"/><stop offset="0.7592" stop-color="#d2d2d2"/><stop offset="0.7615" stop-color="#d2d2d2"/><stop offset="0.7692" stop-color="#d2d2d2"/><stop offset="0.7715" stop-color="#cbcbcb"/><stop offset="0.7792" stop-color="#cbcbcb"/><stop offset="0.7815" stop-color="#c4c4c4"/><stop offset="0.7892" stop-color="#c4c4c4"/><stop offset="0.7915" stop-color="#c0c0c0"/><stop offset="0.7992" stop-color="#c0c0c0"/><stop offset="0.8015" stop-color="#bcbcbc"/><stop offset="0.8092" stop-color="#bcbcbc"/><stop offset="0.8115" stop-color="#bcbcbc"/><stop offset="0.8192" stop-color="#bcbcbc"/><stop offset="0.8215" stop-color="#bababa"/><stop offset="0.8292" stop-color="#bababa"/><stop offset="0.8315" stop-color="#b8b8b8"/><stop offset="0.8392" stop-color="#b8b8b8"/><stop offset="0.8416" stop-color="#c0c0c0"/><stop offset="0.8492" stop-color="#c0c0c0"/><stop offset="0.8516" stop-color="#c0c0c0"/><stop offset="0.8592" stop-color="#c0c0c0"/><stop offset="0.8616" stop-color="#b9b9b9"/><stop offset="0.8692" stop-color="#b9b9b9"/><stop offset="0.8716" stop-color="#bfbfbf"/><stop offset="0.8792" stop-color="#bfbfbf"/><stop offset="0.8816" stop-color="#b9b9b9"/><stop offset="0.8893" stop-color="#b9b9b9"/><stop offset="0.8916" stop-color="#b6b6b6"/><stop offset="0.8993" stop-color="#b6b6b6"/><stop offset="0.9016" stop-color="#b7b7b7"/><stop offset="0.9093" stop-color="#b7b7b7"/><stop offset="0.9116" stop-color="#b9b9b9"/><stop offset="0.9193" stop-color="#b9b9b9"/><stop offset="0.9216" stop-color="#b4b4b4"/><stop offset="0.9293" stop-color="#b4b4b4"/><stop offset="0.9316" stop-color="#b4b4b4"/><stop offset="0.9393" stop-color="#b4b4b4"/><stop offset="0.9416" stop-color="#adadad"/><stop offset="0.9493" stop-color="#adadad"/><stop offset="0.9516" stop-color="#adadad"/><stop offset="0.9593" stop-color="#adadad"/><stop offset="0.9616" stop-color="#a2a2a2"/><stop offset="0.9693" stop-color="#a2a2a2"/><stop offset="0.9716" stop-color="#a4a4a4"/><stop offset="0.9793" stop-color="#a4a4a4"/><stop offset="0.9816" stop-color="#b2b2b2"/><stop offset="0.9893" stop-color="#b2b2b2"/><stop offset="0.9916" stop-color="#bbbbbb"/><stop offset="0.9993" stop-color="#bbbbbb"/></linearGradient>
<clipPath id="cb"><rect x="757.4" y="19.7" width="520.1" height="521"/></clipPath>
<filter id="jb" filterUnits="userSpaceOnUse" x="755.4" y="17.7" width="524.1" height="525" color-interpolation-filters="sRGB"><feTurbulence type="fractalNoise" baseFrequency="0.095 0.022" numOctaves="3" seed="11" result="n0"/><feColorMatrix in="n0" type="matrix" values="1 0 0 0 0  1 0 0 0 0  1 0 0 0 0  0 0 0 0 1" result="n1"/><feComponentTransfer in="n1" result="n1"><feFuncR type="table" tableValues="0.000 0.000 0.000 0.000 0.020 0.160 0.500 0.850 1.000 1.000 1.000"/><feFuncG type="table" tableValues="0.000 0.000 0.000 0.000 0.020 0.160 0.500 0.850 1.000 1.000 1.000"/><feFuncB type="table" tableValues="0.000 0.000 0.000 0.000 0.020 0.160 0.500 0.850 1.000 1.000 1.000"/></feComponentTransfer><feComponentTransfer in="SourceGraphic" result="m"><feFuncR type="table" tableValues="0.020 0.020 0.020 0.020 0.020 0.020 0.025 0.045 0.130 0.160 0.120"/><feFuncG type="table" tableValues="0.020 0.020 0.020 0.020 0.020 0.020 0.025 0.045 0.130 0.160 0.120"/><feFuncB type="table" tableValues="0.020 0.020 0.020 0.020 0.020 0.020 0.025 0.045 0.130 0.160 0.120"/></feComponentTransfer><feComposite in="m" in2="n1" operator="arithmetic" k1="1" k2="0" k3="0" k4="0" result="t"/><feComposite in="SourceGraphic" in2="m" operator="arithmetic" k1="0" k2="1" k3="-0.2" k4="0" result="u"/><feComposite in="u" in2="t" operator="arithmetic" k1="0" k2="1" k3="1" k4="0" result="r"/><feComponentTransfer in="r"><feFuncR type="table" tableValues="0.000 0.000 0.000 0.000 0.000 0.000 0.000 0.000 0.000 0.000 0.000 0.000 0.000 0.000 0.000 0.000 0.000 0.000 0.000 0.000 0.000 0.000 0.000 0.000 0.000 0.000 0.000 0.000 0.000 0.040 0.081 0.121 0.161 0.202 0.242 0.282 0.323 0.363 0.403 0.444 0.484 0.524 0.565 0.605 0.645 0.685 0.726 0.766 0.806 0.847 0.887 0.927 0.968 1.000 1.000 1.000 1.000 1.000 1.000 1.000 1.000 1.000 1.000 1.000 1.000 1.000 1.000 1.000 1.000 1.000 1.000 1.000 0.955 0.898 0.841 0.784 0.727 0.670 0.614 0.557 0.500"/><feFuncG type="table" tableValues="0.000 0.000 0.000 0.000 0.000 0.000 0.000 0.000 0.000 0.000 0.000 0.050 0.100 0.150 0.200 0.250 0.300 0.350 0.400 0.450 0.500 0.550 0.600 0.650 0.700 0.750 0.800 0.850 0.900 0.950 1.000 1.000 1.000 1.000 1.000 1.000 1.000 1.000 1.000 1.000 1.000 1.000 1.000 1.000 1.000 1.000 1.000 1.000 1.000 1.000 1.000 1.000 0.963 0.917 0.870 0.824 0.778 0.731 0.685 0.639 0.593 0.546 0.500 0.454 0.407 0.361 0.315 0.269 0.222 0.176 0.130 0.083 0.037 0.000 0.000 0.000 0.000 0.000 0.000 0.000 0.000"/><feFuncB type="table" tableValues="0.500 0.557 0.614 0.670 0.727 0.784 0.841 0.898 0.955 1.000 1.000 1.000 1.000 1.000 1.000 1.000 1.000 1.000 1.000 1.000 1.000 1.000 1.000 1.000 1.000 1.000 1.000 1.000 0.968 0.927 0.887 0.847 0.806 0.766 0.726 0.685 0.645 0.605 0.565 0.524 0.484 0.444 0.403 0.363 0.323 0.282 0.242 0.202 0.161 0.121 0.081 0.040 0.000 0.000 0.000 0.000 0.000 0.000 0.000 0.000 0.000 0.000 0.000 0.000 0.000 0.000 0.000 0.000 0.000 0.000 0.000 0.000 0.000 0.000 0.000 0.000 0.000 0.000 0.000 0.000 0.000"/><feFuncA type="linear" slope="0" intercept="1"/></feComponentTransfer></filter>
<linearGradient id="gc" gradientUnits="userSpaceOnUse" x1="0" y1="20" x2="0" y2="541"><stop offset="0.0000" stop-color="#c2c2c2"/><stop offset="0.1344" stop-color="#c3c3c3"/><stop offset="0.2303" stop-color="#c7c7c7"/><stop offset="0.2879" stop-color="#cdcdcd"/><stop offset="0.3551" stop-color="#dddddd"/><stop offset="0.4127" stop-color="#e4e4e4"/><stop offset="0.5950" stop-color="#e6e6e6"/><stop offset="0.7678" stop-color="#e6e6e6"/><stop offset="0.8541" stop-color="#e4e4e4"/><stop offset="0.8983" stop-color="#dedede"/><stop offset="0.9328" stop-color="#d4d4d4"/><stop offset="0.9693" stop-color="#c9c9c9"/><stop offset="1.0000" stop-color="#c6c6c6"/></linearGradient>
<linearGradient id="gcl" gradientUnits="userSpaceOnUse" x1="0" y1="20" x2="0" y2="541"><stop offset="0.0000" stop-color="#adadad"/><stop offset="0.2495" stop-color="#b2b2b2"/><stop offset="0.5374" stop-color="#c6c6c6"/><stop offset="0.7678" stop-color="#c9c9c9"/><stop offset="1.0000" stop-color="#bdbdbd"/></linearGradient>
<clipPath id="cc"><rect x="1405.3" y="19.7" width="520" height="521"/></clipPath>
<filter id="jc" filterUnits="userSpaceOnUse" x="1403.3" y="17.7" width="524" height="525" color-interpolation-filters="sRGB"><feTurbulence type="fractalNoise" baseFrequency="0.02 0.012" numOctaves="3" seed="5" result="n0"/><feColorMatrix in="n0" type="matrix" values="1 0 0 0 0  1 0 0 0 0  1 0 0 0 0  0 0 0 0 1" result="n1"/><feComponentTransfer in="SourceGraphic" result="m"><feFuncR type="table" tableValues="0.060 0.060 0.060 0.060 0.060 0.060 0.060 0.060 0.060 0.050 0.020"/><feFuncG type="table" tableValues="0.060 0.060 0.060 0.060 0.060 0.060 0.060 0.060 0.060 0.050 0.020"/><feFuncB type="table" tableValues="0.060 0.060 0.060 0.060 0.060 0.060 0.060 0.060 0.060 0.050 0.020"/></feComponentTransfer><feComposite in="m" in2="n1" operator="arithmetic" k1="2" k2="0" k3="0" k4="0" result="t"/><feComposite in="SourceGraphic" in2="m" operator="arithmetic" k1="0" k2="1" k3="-1" k4="0" result="u"/><feComposite in="u" in2="t" operator="arithmetic" k1="0" k2="1" k3="1" k4="0" result="r"/><feComponentTransfer in="r"><feFuncR type="table" tableValues="0.000 0.000 0.000 0.000 0.000 0.000 0.000 0.000 0.000 0.000 0.000 0.000 0.000 0.000 0.000 0.000 0.000 0.000 0.000 0.000 0.000 0.000 0.000 0.000 0.000 0.000 0.000 0.000 0.000 0.040 0.081 0.121 0.161 0.202 0.242 0.282 0.323 0.363 0.403 0.444 0.484 0.524 0.565 0.605 0.645 0.685 0.726 0.766 0.806 0.847 0.887 0.927 0.968 1.000 1.000 1.000 1.000 1.000 1.000 1.000 1.000 1.000 1.000 1.000 1.000 1.000 1.000 1.000 1.000 1.000 1.000 1.000 0.955 0.898 0.841 0.784 0.727 0.670 0.614 0.557 0.500"/><feFuncG type="table" tableValues="0.000 0.000 0.000 0.000 0.000 0.000 0.000 0.000 0.000 0.000 0.000 0.050 0.100 0.150 0.200 0.250 0.300 0.350 0.400 0.450 0.500 0.550 0.600 0.650 0.700 0.750 0.800 0.850 0.900 0.950 1.000 1.000 1.000 1.000 1.000 1.000 1.000 1.000 1.000 1.000 1.000 1.000 1.000 1.000 1.000 1.000 1.000 1.000 1.000 1.000 1.000 1.000 0.963 0.917 0.870 0.824 0.778 0.731 0.685 0.639 0.593 0.546 0.500 0.454 0.407 0.361 0.315 0.269 0.222 0.176 0.130 0.083 0.037 0.000 0.000 0.000 0.000 0.000 0.000 0.000 0.000"/><feFuncB type="table" tableValues="0.500 0.557 0.614 0.670 0.727 0.784 0.841 0.898 0.955 1.000 1.000 1.000 1.000 1.000 1.000 1.000 1.000 1.000 1.000 1.000 1.000 1.000 1.000 1.000 1.000 1.000 1.000 1.000 0.968 0.927 0.887 0.847 0.806 0.766 0.726 0.685 0.645 0.605 0.565 0.524 0.484 0.444 0.403 0.363 0.323 0.282 0.242 0.202 0.161 0.121 0.081 0.040 0.000 0.000 0.000 0.000 0.000 0.000 0.000 0.000 0.000 0.000 0.000 0.000 0.000 0.000 0.000 0.000 0.000 0.000 0.000 0.000 0.000 0.000 0.000 0.000 0.000 0.000 0.000 0.000 0.000"/><feFuncA type="linear" slope="0" intercept="1"/></feComponentTransfer></filter>
</defs>
<g clip-path="url(#ca)"><g filter="url(#ja)"><rect x="106.3" y="17.7" width="523.5" height="525" fill="url(#ga)"/><ellipse cx="150" cy="478" rx="50" ry="22" fill="#949494" opacity="0.8" filter="url(#bl12)"/><ellipse cx="440" cy="470" rx="85" ry="16" fill="#a6a6a6" opacity="0.65" filter="url(#bl12)"/><ellipse cx="585" cy="468" rx="38" ry="22" fill="#cccccc" opacity="0.6" filter="url(#bl8)"/><ellipse cx="262" cy="500" rx="45" ry="10" fill="#e6e6e6" opacity="0.5" filter="url(#bl6)"/><ellipse cx="172" cy="498" rx="28" ry="7" fill="#e6e6e6" opacity="0.5" filter="url(#bl6)"/><ellipse cx="400" cy="519" rx="85" ry="3.5" fill="#f2f2f2" opacity="0.6" filter="url(#bl2)"/><ellipse cx="540" cy="500" rx="60" ry="8" fill="#d6d6d6" opacity="0.4" filter="url(#bl6)"/><rect x="430" y="521.5" width="210" height="12" fill="#dbdbdb" opacity="0.55" filter="url(#bl2)"/><ellipse cx="616" cy="98.5" rx="14" ry="4.5" fill="#707070" opacity="1" filter="url(#bl3)"/><ellipse cx="592" cy="98" rx="30" ry="3" fill="#4f4f4f" opacity="0.7" filter="url(#bl3)"/><line x1="130" y1="24" x2="130" y2="210" stroke="#5c5c5c" stroke-width="1.4" stroke-dasharray="3.5 15.0 1.7 15.4 3.1 13.7 3.1 6.5 1.8 11.7 3.2 5.2" stroke-dashoffset="27.3" opacity="0.58"/><line x1="151" y1="24" x2="151" y2="210" stroke="#5c5c5c" stroke-width="1.4" stroke-dasharray="1.6 5.5 2.6 15.5 3.1 9.8 2.7 8.1 1.7 4.2 2.3 7.7" stroke-dashoffset="2.2" opacity="0.64"/><line x1="204" y1="24" x2="204" y2="210" stroke="#5c5c5c" stroke-width="1.4" stroke-dasharray="2.4 15.7 3.0 5.7 3.2 8.5 2.0 14.3 2.4 14.0 2.9 6.7" stroke-dashoffset="13.9" opacity="0.39"/><line x1="230" y1="24" x2="230" y2="260" stroke="#5c5c5c" stroke-width="1.4" stroke-dasharray="2.9 14.9 3.3 5.4 2.0 10.3 1.6 15.9 2.8 15.8 2.5 6.2" stroke-dashoffset="12.8" opacity="0.39"/><line x1="258" y1="24" x2="258" y2="210" stroke="#5c5c5c" stroke-width="1.4" stroke-dasharray="1.8 6.8 1.7 12.7 2.8 6.3 2.4 10.0 2.6 9.0 3.3 4.6" stroke-dashoffset="11.0" opacity="0.35"/><line x1="284" y1="24" x2="284" y2="300" stroke="#5c5c5c" stroke-width="1.4" stroke-dasharray="3.0 9.5 2.6 11.9 3.1 10.2 2.4 5.6 1.6 6.0 1.8 15.3" stroke-dashoffset="0.8" opacity="0.45"/><line x1="308" y1="24" x2="308" y2="260" stroke="#5c5c5c" stroke-width="1.4" stroke-dasharray="2.3 14.0 2.3 10.6 2.0 7.9 1.7 13.4 2.5 12.8 2.6 5.1" stroke-dashoffset="16.3" opacity="0.59"/><line x1="360" y1="24" x2="360" y2="235" stroke="#5c5c5c" stroke-width="1.4" stroke-dasharray="2.5 15.8 2.6 7.7 3.2 8.2 1.9 4.9 2.4 9.2 3.1 9.4" stroke-dashoffset="12.8" opacity="0.56"/><line x1="386" y1="24" x2="386" y2="235" stroke="#5c5c5c" stroke-width="1.4" stroke-dasharray="2.0 8.2 2.1 13.8 3.4 5.2 1.5 8.2 2.9 9.3 3.0 15.6" stroke-dashoffset="20.0" opacity="0.39"/><line x1="412" y1="24" x2="412" y2="235" stroke="#5c5c5c" stroke-width="1.4" stroke-dasharray="2.7 11.5 1.9 4.3 2.9 15.9 2.8 6.4 3.2 7.8 2.2 13.8" stroke-dashoffset="27.9" opacity="0.62"/><line x1="429" y1="24" x2="429" y2="260" stroke="#5c5c5c" stroke-width="1.4" stroke-dasharray="1.5 6.7 2.7 6.8 3.2 12.8 3.0 15.3 2.9 15.6 2.4 5.6" stroke-dashoffset="18.4" opacity="0.45"/><line x1="455" y1="24" x2="455" y2="300" stroke="#5c5c5c" stroke-width="1.4" stroke-dasharray="1.7 5.6 1.7 12.5 2.2 9.2 3.5 8.0 2.8 8.2 2.3 9.1" stroke-dashoffset="6.2" opacity="0.40"/><line x1="468" y1="24" x2="468" y2="260" stroke="#5c5c5c" stroke-width="1.4" stroke-dasharray="1.9 8.5 3.1 5.5 2.8 5.7 3.4 6.7 3.2 15.6 2.5 4.4" stroke-dashoffset="14.6" opacity="0.59"/><line x1="507" y1="24" x2="507" y2="260" stroke="#5c5c5c" stroke-width="1.4" stroke-dasharray="3.3 14.4 3.1 11.9 1.6 8.4 2.9 6.9 1.6 11.1 3.0 16.0" stroke-dashoffset="13.5" opacity="0.36"/><line x1="526" y1="24" x2="526" y2="235" stroke="#5c5c5c" stroke-width="1.4" stroke-dasharray="2.9 14.7 2.5 10.8 1.7 7.8 2.7 13.6 2.1 14.0 2.7 10.7" stroke-dashoffset="18.6" opacity="0.44"/><line x1="533" y1="24" x2="533" y2="235" stroke="#5c5c5c" stroke-width="1.4" stroke-dasharray="1.8 11.0 3.5 15.9 2.9 13.0 3.2 8.0 2.3 8.4 3.0 5.6" stroke-dashoffset="13.4" opacity="0.58"/><line x1="576" y1="24" x2="576" y2="210" stroke="#5c5c5c" stroke-width="1.4" stroke-dasharray="3.3 9.1 3.3 9.9 3.0 7.6 2.0 5.0 2.0 14.3 1.9 11.0" stroke-dashoffset="18.2" opacity="0.57"/><line x1="602" y1="24" x2="602" y2="235" stroke="#5c5c5c" stroke-width="1.4" stroke-dasharray="2.5 12.2 2.4 9.8 3.3 8.0 3.0 10.6 1.5 13.7 2.8 8.5" stroke-dashoffset="5.5" opacity="0.44"/><line x1="175" y1="24" x2="175" y2="235" stroke="#5c5c5c" stroke-width="1.4" stroke-dasharray="3.3 14.5 1.7 13.5 1.7 8.3 3.5 14.6 1.7 10.8 2.3 12.1" stroke-dashoffset="28.0" opacity="0.62"/><line x1="330" y1="24" x2="330" y2="300" stroke="#5c5c5c" stroke-width="1.4" stroke-dasharray="1.8 4.7 1.9 10.1 2.9 14.3 3.0 11.9 2.7 11.8 2.3 12.0" stroke-dashoffset="21.6" opacity="0.55"/><line x1="560" y1="24" x2="560" y2="300" stroke="#5c5c5c" stroke-width="1.4" stroke-dasharray="1.6 7.9 2.4 7.7 1.9 8.5 3.2 7.2 3.4 4.1 2.3 12.7" stroke-dashoffset="0.4" opacity="0.38"/><line x1="490" y1="24" x2="490" y2="210" stroke="#5c5c5c" stroke-width="1.4" stroke-dasharray="1.6 10.8 1.7 8.8 2.1 5.2 2.2 9.2 2.7 8.1 1.6 7.9" stroke-dashoffset="18.4" opacity="0.45"/><line x1="108.3" y1="68" x2="627.8" y2="68" stroke="#5c5c5c" stroke-width="1.3" stroke-dasharray="2 5 3 7 2 4" opacity="0.7"/><line x1="128.3" y1="135.5" x2="627.8" y2="135.5" stroke="#141414" stroke-width="1.5" stroke-dasharray="3 19 2 26 4 47" opacity="0.8"/><line x1="116.3" y1="365" x2="627.8" y2="365" stroke="#808080" stroke-width="1.5" stroke-dasharray="3 14.5" opacity="0.7"/><line x1="108.3" y1="388.3" x2="627.8" y2="388.3" stroke="#808080" stroke-width="1.1" opacity="0.55"/><line x1="115" y1="162.7" x2="126" y2="162.7" stroke="#8c8c8c" stroke-width="1.6" opacity="0.9"/><line x1="152" y1="162.7" x2="178" y2="162.7" stroke="#8c8c8c" stroke-width="1.6" opacity="0.9"/><line x1="210" y1="162.7" x2="221" y2="162.7" stroke="#8c8c8c" stroke-width="1.6" opacity="0.9"/><line x1="251" y1="162.7" x2="264" y2="162.7" stroke="#8c8c8c" stroke-width="1.6" opacity="0.9"/><line x1="277" y1="162.7" x2="303" y2="162.7" stroke="#8c8c8c" stroke-width="1.6" opacity="0.9"/><line x1="357" y1="162.7" x2="381" y2="162.7" stroke="#8c8c8c" stroke-width="1.6" opacity="0.9"/><line x1="414" y1="162.7" x2="440" y2="162.7" stroke="#8c8c8c" stroke-width="1.6" opacity="0.9"/><line x1="468" y1="162.7" x2="485" y2="162.7" stroke="#8c8c8c" stroke-width="1.6" opacity="0.9"/><line x1="494" y1="162.7" x2="507" y2="162.7" stroke="#8c8c8c" stroke-width="1.6" opacity="0.9"/><line x1="115" y1="176" x2="143" y2="176" stroke="#737373" stroke-width="1.3" opacity="0.6"/><line x1="210" y1="176" x2="228" y2="176" stroke="#737373" stroke-width="1.3" opacity="0.6"/><line x1="335" y1="176" x2="350" y2="176" stroke="#737373" stroke-width="1.3" opacity="0.6"/><line x1="560" y1="176" x2="600" y2="176" stroke="#737373" stroke-width="1.3" opacity="0.6"/></g></g>
<g clip-path="url(#ca)" stroke="#5a1a00" stroke-width="1.1" opacity="0.6"><line x1="108.3" y1="466.7" x2="627.8" y2="466.7" stroke-dasharray="1.5 5 2 9 1 3"/><line x1="108.3" y1="470.5" x2="627.8" y2="470.5" stroke-dasharray="5 14 8 30 4 22"/><line x1="108.3" y1="495.5" x2="627.8" y2="495.5" stroke-dasharray="6 13 4 25 9 17"/><line x1="108.3" y1="503" x2="627.8" y2="503" stroke-dasharray="7 40 5 28 10 55"/></g>
<g clip-path="url(#ca)" stroke="#1a0000" stroke-width="1.4"><line x1="108.3" y1="235.2" x2="627.8" y2="235.2"/><line x1="108.3" y1="263.4" x2="627.8" y2="263.4" stroke="#3a0000"/><line x1="497" y1="293.5" x2="540" y2="293.5" stroke="#700000" stroke-width="1.2"/><line x1="597" y1="293.5" x2="626" y2="293.5" stroke="#700000" stroke-width="1.2"/></g>
<g clip-path="url(#cb)"><g filter="url(#jb)"><rect x="755.4" y="17.7" width="524.1" height="525" fill="url(#gb)"/><ellipse cx="1100" cy="175" rx="70" ry="30" fill="#999999" opacity="0.8" filter="url(#bl16)"/><ellipse cx="872" cy="378" rx="85" ry="50" fill="#ebebeb" opacity="0.65" filter="url(#bl24)"/><ellipse cx="770" cy="372" rx="13" ry="70" fill="#b5b5b5" opacity="0.6" filter="url(#bl8)"/><ellipse cx="992" cy="372" rx="24" ry="60" fill="#b8b8b8" opacity="0.5" filter="url(#bl12)"/><ellipse cx="1065" cy="365" rx="50" ry="70" fill="#b2b2b2" opacity="0.6" filter="url(#bl24)"/><ellipse cx="1210" cy="395" rx="65" ry="50" fill="#ebebeb" opacity="0.6" filter="url(#bl24)"/><ellipse cx="820" cy="160" rx="60" ry="25" fill="#9e9e9e" opacity="0.6" filter="url(#bl16)"/><ellipse cx="1220" cy="230" rx="50" ry="40" fill="#c2c2c2" opacity="0.6" filter="url(#bl16)"/><ellipse cx="882" cy="402" rx="24" ry="23" fill="#ffffff" opacity="0.95" filter="url(#bl6)"/><ellipse cx="865" cy="385" rx="12" ry="18" fill="#ffffff" opacity="0.8" filter="url(#bl4)"/><ellipse cx="900" cy="410" rx="10" ry="14" fill="#ffffff" opacity="0.8" filter="url(#bl4)"/><ellipse cx="1168" cy="395" rx="9" ry="32" fill="#ffffff" opacity="0.9" filter="url(#bl4)"/><ellipse cx="1180" cy="420" rx="6" ry="16" fill="#ffffff" opacity="0.8" filter="url(#bl3)"/><ellipse cx="1268" cy="422" rx="9" ry="8" fill="#ffffff" opacity="0.9" filter="url(#bl3)"/><ellipse cx="975" cy="495" rx="5" ry="10" fill="#fafafa" opacity="0.8" filter="url(#bl3)"/><ellipse cx="942" cy="506" rx="4" ry="8" fill="#fafafa" opacity="0.7" filter="url(#bl3)"/><ellipse cx="1047" cy="345" rx="14" ry="16" fill="#adadad" opacity="0.8" filter="url(#bl6)"/><ellipse cx="1090" cy="300" rx="30" ry="10" fill="#bdbdbd" opacity="0.5" filter="url(#bl6)"/><ellipse cx="790" cy="524" rx="32" ry="3" fill="#858585" opacity="0.9" filter="url(#bl2)"/><ellipse cx="1095" cy="524.5" rx="34" ry="3" fill="#858585" opacity="0.9" filter="url(#bl2)"/><ellipse cx="858.6" cy="111" rx="1.6" ry="5" fill="#e6e6e6" opacity="1" filter="url(#bl1)"/><ellipse cx="939" cy="120" rx="2.5" ry="30" fill="#b2b2b2" opacity="0.7" filter="url(#bl2)"/><ellipse cx="968" cy="90" rx="4" ry="8" fill="#a3a3a3" opacity="0.7" filter="url(#bl3)"/><ellipse cx="1023" cy="107" rx="2.5" ry="5" fill="#b8b8b8" opacity="0.9" filter="url(#bl2)"/><rect x="750" y="445" width="255" height="12" fill="#a7a7a7" opacity="0.85" filter="url(#bl3)"/><rect x="1020" y="432" width="130" height="12" fill="#ababab" opacity="0.8" filter="url(#bl3)"/><rect x="1010" y="449" width="185" height="26" fill="#d9d9d9" opacity="0.6" filter="url(#bl4)"/><rect x="1200" y="443" width="90" height="16" fill="#aaaaaa" opacity="0.75" filter="url(#bl3)"/><rect x="750" y="461" width="250" height="17" fill="#c4c4c4" opacity="0.5" filter="url(#bl4)"/><ellipse cx="1065" cy="310" rx="28" ry="30" fill="#dbdbdb" opacity="0.6" filter="url(#bl8)"/><ellipse cx="1128" cy="345" rx="22" ry="50" fill="#b0b0b0" opacity="0.6" filter="url(#bl8)"/><ellipse cx="1137" cy="402" rx="8" ry="11" fill="#ffffff" opacity="0.9" filter="url(#bl3)"/><ellipse cx="1205" cy="380" rx="14" ry="36" fill="#ededed" opacity="0.6" filter="url(#bl6)"/><ellipse cx="1063" cy="460" rx="6" ry="12" fill="#ffffff" opacity="0.7" filter="url(#bl3)"/><ellipse cx="1165" cy="462" rx="8" ry="8" fill="#ffffff" opacity="0.7" filter="url(#bl3)"/><ellipse cx="1112" cy="460" rx="5" ry="8" fill="#f7f7f7" opacity="0.6" filter="url(#bl3)"/></g></g>
<g clip-path="url(#cb)" stroke="#8c0010" stroke-width="1.1"><line x1="757.4" y1="499.3" x2="1277.5" y2="499.3"/><line x1="757.4" y1="501.7" x2="1277.5" y2="501.7"/><line x1="757.4" y1="529.8" x2="1277.5" y2="529.8"/><line x1="757.4" y1="533.6" x2="1277.5" y2="533.6"/><line x1="757.4" y1="513" x2="940" y2="513" stroke-dasharray="7 2 2 1.5 12 2 3 4 5 1" opacity="0.85"/><line x1="940" y1="513" x2="1277.5" y2="513" stroke-dasharray="2 3 6 2 1 5" opacity="0.5"/><line x1="775.5" y1="240.8" x2="794.5" y2="240.8" stroke-width="1.8"/><line x1="853.3" y1="240.8" x2="880.2" y2="240.8" stroke-width="1.8"/><line x1="907.2" y1="240.8" x2="915" y2="240.8" stroke-width="1.8"/><line x1="976" y1="240.8" x2="994.5" y2="240.8" stroke-width="1.8"/><line x1="1129.8" y1="240.8" x2="1148.6" y2="240.8" stroke-width="1.8"/><line x1="1175" y1="295" x2="1210" y2="295" stroke-width="1.3" opacity="0.85"/><line x1="1065" y1="358.5" x2="1105" y2="358.5" stroke-width="1.3" opacity="0.85"/><line x1="1210" y1="358.5" x2="1230" y2="358.5" stroke-width="1.3" opacity="0.85"/><line x1="1260" y1="358.5" x2="1276" y2="358.5" stroke-width="1.3" opacity="0.85"/><line x1="782" y1="393.5" x2="807" y2="393.5" stroke-width="1.3" opacity="0.85"/><line x1="980" y1="393.5" x2="997" y2="393.5" stroke-width="1.3" opacity="0.85"/><line x1="1087" y1="421" x2="1105" y2="421" stroke-width="1.3" opacity="0.85"/><line x1="1090" y1="375" x2="1100" y2="375" stroke-width="1.3" opacity="0.85"/><line x1="962" y1="376" x2="967" y2="376" stroke-width="1.3" opacity="0.85"/><line x1="992" y1="375" x2="995" y2="375" stroke-width="1.3" opacity="0.85"/><line x1="985" y1="402" x2="991" y2="402" stroke-width="1.3" opacity="0.85"/><line x1="1092" y1="402" x2="1097" y2="402" stroke-width="1.3" opacity="0.85"/><line x1="777.4" y1="217.8" x2="1277.5" y2="217.8" stroke-dasharray="1.5 6 3 11 1 4" stroke-width="1" opacity="0.7"/></g>
<g clip-path="url(#cc)"><g filter="url(#jc)"><rect x="1403.3" y="17.7" width="524" height="525" fill="url(#gc)"/><ellipse cx="1593" cy="52" rx="85" ry="26" fill="#b9b9b9" opacity="0.8" filter="url(#bl12)"/><ellipse cx="1779" cy="62" rx="38" ry="40" fill="#bdbdbd" opacity="0.8" filter="url(#bl12)"/><ellipse cx="1775" cy="130" rx="30" ry="25" fill="#c6c6c6" opacity="0.5" filter="url(#bl12)"/><ellipse cx="1673" cy="50" rx="10" ry="28" fill="#bababa" opacity="0.6" filter="url(#bl8)"/><ellipse cx="1710" cy="90" rx="22" ry="70" fill="#c9c9c9" opacity="0.6" filter="url(#bl12)"/><ellipse cx="1870" cy="90" rx="36" ry="70" fill="#c9c9c9" opacity="0.6" filter="url(#bl12)"/><ellipse cx="1460" cy="130" rx="40" ry="40" fill="#c4c4c4" opacity="0.5" filter="url(#bl16)"/><ellipse cx="1705" cy="322" rx="28" ry="52" fill="#d4d4d4" opacity="0.8" filter="url(#bl12)"/><ellipse cx="1795" cy="312" rx="25" ry="28" fill="#d9d9d9" opacity="0.5" filter="url(#bl12)"/><ellipse cx="1896" cy="308" rx="26" ry="46" fill="#d1d1d1" opacity="0.8" filter="url(#bl12)"/><ellipse cx="1455" cy="528" rx="50" ry="16" fill="#c8c8c8" opacity="0.7" filter="url(#bl12)"/><ellipse cx="1740" cy="505" rx="95" ry="32" fill="#c4c4c4" opacity="0.8" filter="url(#bl16)"/><ellipse cx="1753" cy="495" rx="16" ry="16" fill="#bdbdbd" opacity="0.7" filter="url(#bl8)"/><ellipse cx="1885" cy="520" rx="35" ry="18" fill="#c9c9c9" opacity="0.7" filter="url(#bl12)"/><ellipse cx="1426" cy="462" rx="22" ry="40" fill="#dbdbdb" opacity="0.6" filter="url(#bl8)"/><ellipse cx="1485" cy="226" rx="75" ry="38" fill="#e3e3e3" opacity="0.6" filter="url(#bl16)"/><ellipse cx="1621" cy="343" rx="46" ry="82" fill="#ffffff" opacity="1" filter="url(#bl16)"/><ellipse cx="1605" cy="310" rx="28" ry="40" fill="#ffffff" opacity="0.9" filter="url(#bl12)"/><ellipse cx="1630" cy="390" rx="30" ry="30" fill="#ffffff" opacity="0.9" filter="url(#bl12)"/><ellipse cx="1566" cy="440" rx="44" ry="78" fill="#fcfcfc" opacity="0.95" filter="url(#bl16)"/><ellipse cx="1575" cy="400" rx="30" ry="40" fill="#ffffff" opacity="0.7" filter="url(#bl12)"/><ellipse cx="1558" cy="520" rx="28" ry="28" fill="#f2f2f2" opacity="0.8" filter="url(#bl12)"/><ellipse cx="1610" cy="470" rx="30" ry="30" fill="#f2f2f2" opacity="0.6" filter="url(#bl12)"/><ellipse cx="1560" cy="480" rx="24" ry="30" fill="#f5f5f5" opacity="0.7" filter="url(#bl12)"/><ellipse cx="1420" cy="360" rx="20" ry="46" fill="#f5f5f5" opacity="0.85" filter="url(#bl8)"/><ellipse cx="1692" cy="218" rx="13" ry="48" fill="#f0f0f0" opacity="0.75" filter="url(#bl8)"/><ellipse cx="1786" cy="205" rx="12" ry="60" fill="#f2f2f2" opacity="0.75" filter="url(#bl8)"/><ellipse cx="1857" cy="222" rx="14" ry="36" fill="#f5f5f5" opacity="0.8" filter="url(#bl8)"/><ellipse cx="1747" cy="287" rx="13" ry="24" fill="#f2f2f2" opacity="0.75" filter="url(#bl8)"/><ellipse cx="1753" cy="373" rx="15" ry="24" fill="#f0f0f0" opacity="0.7" filter="url(#bl8)"/><ellipse cx="1815" cy="391" rx="14" ry="24" fill="#f0f0f0" opacity="0.7" filter="url(#bl8)"/><ellipse cx="1870" cy="451" rx="28" ry="24" fill="#f2f2f2" opacity="0.8" filter="url(#bl8)"/><ellipse cx="1620" cy="205" rx="30" ry="20" fill="#ededed" opacity="0.7" filter="url(#bl12)"/><ellipse cx="1690" cy="370" rx="12" ry="30" fill="#ededed" opacity="0.5" filter="url(#bl8)"/><rect x="1447.6" y="19.7" width="3.4" height="521" fill="url(#gcl)" opacity="0.8"/><rect x="1472.3" y="19.7" width="3.4" height="521" fill="url(#gcl)" opacity="0.8"/><rect x="1497" y="19.7" width="3.4" height="521" fill="url(#gcl)" opacity="0.8"/><rect x="1405.3" y="90.5" width="520" height="3" fill="#dbdbdb" opacity="0.8"/><rect x="1405.3" y="79.8" width="520" height="2" fill="#d4d4d4" opacity="0.6"/><rect x="1405.3" y="330.4" width="520" height="1.6" fill="#f7f7f7" opacity="0.8"/><rect x="1613" y="233.7" width="52" height="4.2" fill="#ffffff"/><rect x="1447.7" y="163.2" width="3.2" height="3.6" fill="#ffffff"/><rect x="1472.4" y="163.2" width="3.2" height="3.6" fill="#ffffff"/><rect x="1497.1" y="163.2" width="3.2" height="3.6" fill="#ffffff"/><rect x="1707.6" y="98.2" width="3.2" height="3.6" fill="#ffffff"/><rect x="1860" y="98.5" width="1.6" height="3" fill="#ffffff"/></g></g>
<rect x="108.3" y="19.7" width="519.5" height="521" fill="none" stroke="#000" stroke-width="3.4"/>
<line x1="93.5" y1="530.6" x2="108.3" y2="530.6" stroke="#000" stroke-width="4.6"/>
<text x="81.5" y="538.9" font-size="21.3" text-anchor="end" fill="#000" stroke="#000" stroke-width="0.9" >100</text>
<line x1="100.5" y1="520.36" x2="108.3" y2="520.36" stroke="#000" stroke-width="3"/>
<line x1="100.5" y1="510.12" x2="108.3" y2="510.12" stroke="#000" stroke-width="3"/>
<line x1="100.5" y1="499.88" x2="108.3" y2="499.88" stroke="#000" stroke-width="3"/>
<line x1="100.5" y1="489.64" x2="108.3" y2="489.64" stroke="#000" stroke-width="3"/>
<line x1="100.5" y1="479.4" x2="108.3" y2="479.4" stroke="#000" stroke-width="3"/>
<line x1="100.5" y1="469.16" x2="108.3" y2="469.16" stroke="#000" stroke-width="3"/>
<line x1="100.5" y1="458.92" x2="108.3" y2="458.92" stroke="#000" stroke-width="3"/>
<line x1="100.5" y1="448.68" x2="108.3" y2="448.68" stroke="#000" stroke-width="3"/>
<line x1="100.5" y1="438.44" x2="108.3" y2="438.44" stroke="#000" stroke-width="3"/>
<line x1="93.5" y1="428.2" x2="108.3" y2="428.2" stroke="#000" stroke-width="4.6"/>
<text x="81.5" y="436.5" font-size="21.3" text-anchor="end" fill="#000" stroke="#000" stroke-width="0.9" >200</text>
<line x1="100.5" y1="417.96" x2="108.3" y2="417.96" stroke="#000" stroke-width="3"/>
<line x1="100.5" y1="407.72" x2="108.3" y2="407.72" stroke="#000" stroke-width="3"/>
<line x1="100.5" y1="397.48" x2="108.3" y2="397.48" stroke="#000" stroke-width="3"/>
<line x1="100.5" y1="387.24" x2="108.3" y2="387.24" stroke="#000" stroke-width="3"/>
<line x1="100.5" y1="377" x2="108.3" y2="377" stroke="#000" stroke-width="3"/>
<line x1="100.5" y1="366.76" x2="108.3" y2="366.76" stroke="#000" stroke-width="3"/>
<line x1="100.5" y1="356.52" x2="108.3" y2="356.52" stroke="#000" stroke-width="3"/>
<line x1="100.5" y1="346.28" x2="108.3" y2="346.28" stroke="#000" stroke-width="3"/>
<line x1="100.5" y1="336.04" x2="108.3" y2="336.04" stroke="#000" stroke-width="3"/>
<line x1="93.5" y1="325.8" x2="108.3" y2="325.8" stroke="#000" stroke-width="4.6"/>
<text x="81.5" y="334.1" font-size="21.3" text-anchor="end" fill="#000" stroke="#000" stroke-width="0.9" >300</text>
<line x1="100.5" y1="315.56" x2="108.3" y2="315.56" stroke="#000" stroke-width="3"/>
<line x1="100.5" y1="305.32" x2="108.3" y2="305.32" stroke="#000" stroke-width="3"/>
<line x1="100.5" y1="295.08" x2="108.3" y2="295.08" stroke="#000" stroke-width="3"/>
<line x1="100.5" y1="284.84" x2="108.3" y2="284.84" stroke="#000" stroke-width="3"/>
<line x1="100.5" y1="274.6" x2="108.3" y2="274.6" stroke="#000" stroke-width="3"/>
<line x1="100.5" y1="264.36" x2="108.3" y2="264.36" stroke="#000" stroke-width="3"/>
<line x1="100.5" y1="254.12" x2="108.3" y2="254.12" stroke="#000" stroke-width="3"/>
<line x1="100.5" y1="243.88" x2="108.3" y2="243.88" stroke="#000" stroke-width="3"/>
<line x1="100.5" y1="233.64" x2="108.3" y2="233.64" stroke="#000" stroke-width="3"/>
<line x1="93.5" y1="223.4" x2="108.3" y2="223.4" stroke="#000" stroke-width="4.6"/>
<text x="81.5" y="231.7" font-size="21.3" text-anchor="end" fill="#000" stroke="#000" stroke-width="0.9" >400</text>
<line x1="100.5" y1="213.16" x2="108.3" y2="213.16" stroke="#000" stroke-width="3"/>
<line x1="100.5" y1="202.92" x2="108.3" y2="202.92" stroke="#000" stroke-width="3"/>
<line x1="100.5" y1="192.68" x2="108.3" y2="192.68" stroke="#000" stroke-width="3"/>
<line x1="100.5" y1="182.44" x2="108.3" y2="182.44" stroke="#000" stroke-width="3"/>
<line x1="100.5" y1="172.2" x2="108.3" y2="172.2" stroke="#000" stroke-width="3"/>
<line x1="100.5" y1="161.96" x2="108.3" y2="161.96" stroke="#000" stroke-width="3"/>
<line x1="100.5" y1="151.72" x2="108.3" y2="151.72" stroke="#000" stroke-width="3"/>
<line x1="100.5" y1="141.48" x2="108.3" y2="141.48" stroke="#000" stroke-width="3"/>
<line x1="100.5" y1="131.24" x2="108.3" y2="131.24" stroke="#000" stroke-width="3"/>
<line x1="93.5" y1="121" x2="108.3" y2="121" stroke="#000" stroke-width="4.6"/>
<text x="81.5" y="129.3" font-size="21.3" text-anchor="end" fill="#000" stroke="#000" stroke-width="0.9" >500</text>
<line x1="100.5" y1="110.76" x2="108.3" y2="110.76" stroke="#000" stroke-width="3"/>
<line x1="100.5" y1="100.52" x2="108.3" y2="100.52" stroke="#000" stroke-width="3"/>
<line x1="100.5" y1="90.28" x2="108.3" y2="90.28" stroke="#000" stroke-width="3"/>
<line x1="100.5" y1="80.04" x2="108.3" y2="80.04" stroke="#000" stroke-width="3"/>
<line x1="100.5" y1="69.8" x2="108.3" y2="69.8" stroke="#000" stroke-width="3"/>
<line x1="100.5" y1="59.56" x2="108.3" y2="59.56" stroke="#000" stroke-width="3"/>
<line x1="100.5" y1="49.32" x2="108.3" y2="49.32" stroke="#000" stroke-width="3"/>
<line x1="100.5" y1="39.08" x2="108.3" y2="39.08" stroke="#000" stroke-width="3"/>
<line x1="100.5" y1="28.84" x2="108.3" y2="28.84" stroke="#000" stroke-width="3"/>
<rect x="106.8" y="540.7" width="522.5" height="6.9" fill="#000"/>
<line x1="160.2" y1="540.7" x2="160.2" y2="554.3" stroke="#000" stroke-width="4.6"/>
<text x="160.2" y="583.3" font-size="21.3" text-anchor="middle" fill="#000" stroke="#000" stroke-width="0.9" >04:43</text>
<line x1="265.8" y1="540.7" x2="265.8" y2="554.3" stroke="#000" stroke-width="4.6"/>
<text x="265.8" y="583.3" font-size="21.3" text-anchor="middle" fill="#000" stroke="#000" stroke-width="0.9" >04:44</text>
<line x1="371.4" y1="540.7" x2="371.4" y2="554.3" stroke="#000" stroke-width="4.6"/>
<text x="371.4" y="583.3" font-size="21.3" text-anchor="middle" fill="#000" stroke="#000" stroke-width="0.9" >04:45</text>
<line x1="477" y1="540.7" x2="477" y2="554.3" stroke="#000" stroke-width="4.6"/>
<text x="477" y="583.3" font-size="21.3" text-anchor="middle" fill="#000" stroke="#000" stroke-width="0.9" >04:46</text>
<line x1="582.6" y1="540.7" x2="582.6" y2="554.3" stroke="#000" stroke-width="4.6"/>
<text x="582.6" y="583.3" font-size="21.3" text-anchor="middle" fill="#000" stroke="#000" stroke-width="0.9" >04:47</text>
<text x="368.05" y="619.3" font-size="21.3" text-anchor="middle" fill="#000" stroke="#000" stroke-width="0.9" >Time (UT)</text>
<text transform="translate(21,278.3) rotate(-90)" font-size="21.2" text-anchor="middle" stroke="#000" stroke-width="0.9">Frequency (MHz)</text>
<text x="108.3" y="64" font-size="43" text-anchor="start" fill="#fff" stroke="#fff" stroke-width="1" >a)</text>
<rect x="757.4" y="19.7" width="520.1" height="521" fill="none" stroke="#000" stroke-width="3.4"/>
<line x1="750" y1="488.5" x2="757.4" y2="488.5" stroke="#000" stroke-width="3"/>
<line x1="743" y1="436.5" x2="757.4" y2="436.5" stroke="#000" stroke-width="4.6"/>
<text x="731" y="444.8" font-size="21.3" text-anchor="end" fill="#000" stroke="#000" stroke-width="0.9" >120</text>
<line x1="750" y1="384.5" x2="757.4" y2="384.5" stroke="#000" stroke-width="3"/>
<line x1="743" y1="332.5" x2="757.4" y2="332.5" stroke="#000" stroke-width="4.6"/>
<text x="731" y="340.8" font-size="21.3" text-anchor="end" fill="#000" stroke="#000" stroke-width="0.9" >140</text>
<line x1="750" y1="280.5" x2="757.4" y2="280.5" stroke="#000" stroke-width="3"/>
<line x1="743" y1="228.5" x2="757.4" y2="228.5" stroke="#000" stroke-width="4.6"/>
<text x="731" y="236.8" font-size="21.3" text-anchor="end" fill="#000" stroke="#000" stroke-width="0.9" >160</text>
<line x1="750" y1="176.5" x2="757.4" y2="176.5" stroke="#000" stroke-width="3"/>
<line x1="743" y1="124.5" x2="757.4" y2="124.5" stroke="#000" stroke-width="4.6"/>
<text x="731" y="132.8" font-size="21.3" text-anchor="end" fill="#000" stroke="#000" stroke-width="0.9" >180</text>
<line x1="750" y1="72.5" x2="757.4" y2="72.5" stroke="#000" stroke-width="3"/>
<line x1="743" y1="20.5" x2="757.4" y2="20.5" stroke="#000" stroke-width="4.6"/>
<text x="731" y="28.8" font-size="21.3" text-anchor="end" fill="#000" stroke="#000" stroke-width="0.9" >200</text>
<line x1="766.107" y1="540.7" x2="766.107" y2="547.6" stroke="#000" stroke-width="3.2"/>
<line x1="774.774" y1="540.7" x2="774.774" y2="547.6" stroke="#000" stroke-width="3.2"/>
<line x1="783.441" y1="540.7" x2="783.441" y2="547.6" stroke="#000" stroke-width="3.2"/>
<line x1="792.108" y1="540.7" x2="792.108" y2="547.6" stroke="#000" stroke-width="3.2"/>
<line x1="800.775" y1="540.7" x2="800.775" y2="547.6" stroke="#000" stroke-width="3.2"/>
<line x1="809.442" y1="540.7" x2="809.442" y2="547.6" stroke="#000" stroke-width="3.2"/>
<line x1="818.109" y1="540.7" x2="818.109" y2="547.6" stroke="#000" stroke-width="3.2"/>
<line x1="826.776" y1="540.7" x2="826.776" y2="547.6" stroke="#000" stroke-width="3.2"/>
<line x1="835.443" y1="540.7" x2="835.443" y2="547.6" stroke="#000" stroke-width="3.2"/>
<line x1="844.11" y1="540.7" x2="844.11" y2="547.6" stroke="#000" stroke-width="3.2"/>
<line x1="852.777" y1="540.7" x2="852.777" y2="547.6" stroke="#000" stroke-width="3.2"/>
<line x1="861.444" y1="540.7" x2="861.444" y2="547.6" stroke="#000" stroke-width="3.2"/>
<line x1="870.111" y1="540.7" x2="870.111" y2="547.6" stroke="#000" stroke-width="3.2"/>
<line x1="878.778" y1="540.7" x2="878.778" y2="547.6" stroke="#000" stroke-width="3.2"/>
<line x1="887.445" y1="540.7" x2="887.445" y2="547.6" stroke="#000" stroke-width="3.2"/>
<line x1="896.112" y1="540.7" x2="896.112" y2="547.6" stroke="#000" stroke-width="3.2"/>
<line x1="904.779" y1="540.7" x2="904.779" y2="547.6" stroke="#000" stroke-width="3.2"/>
<line x1="913.446" y1="540.7" x2="913.446" y2="547.6" stroke="#000" stroke-width="3.2"/>
<line x1="922.113" y1="540.7" x2="922.113" y2="547.6" stroke="#000" stroke-width="3.2"/>
<line x1="930.78" y1="540.7" x2="930.78" y2="547.6" stroke="#000" stroke-width="3.2"/>
<line x1="939.447" y1="540.7" x2="939.447" y2="547.6" stroke="#000" stroke-width="3.2"/>
<line x1="948.114" y1="540.7" x2="948.114" y2="547.6" stroke="#000" stroke-width="3.2"/>
<line x1="956.781" y1="540.7" x2="956.781" y2="547.6" stroke="#000" stroke-width="3.2"/>
<line x1="965.448" y1="540.7" x2="965.448" y2="547.6" stroke="#000" stroke-width="3.2"/>
<line x1="974.115" y1="540.7" x2="974.115" y2="547.6" stroke="#000" stroke-width="3.2"/>
<line x1="982.782" y1="540.7" x2="982.782" y2="547.6" stroke="#000" stroke-width="3.2"/>
<line x1="991.449" y1="540.7" x2="991.449" y2="547.6" stroke="#000" stroke-width="3.2"/>
<line x1="1000.12" y1="540.7" x2="1000.12" y2="547.6" stroke="#000" stroke-width="3.2"/>
<line x1="1008.78" y1="540.7" x2="1008.78" y2="547.6" stroke="#000" stroke-width="3.2"/>
<line x1="1017.45" y1="540.7" x2="1017.45" y2="554.3" stroke="#000" stroke-width="4.6"/>
<line x1="1026.12" y1="540.7" x2="1026.12" y2="547.6" stroke="#000" stroke-width="3.2"/>
<line x1="1034.78" y1="540.7" x2="1034.78" y2="547.6" stroke="#000" stroke-width="3.2"/>
<line x1="1043.45" y1="540.7" x2="1043.45" y2="547.6" stroke="#000" stroke-width="3.2"/>
<line x1="1052.12" y1="540.7" x2="1052.12" y2="547.6" stroke="#000" stroke-width="3.2"/>
<line x1="1060.79" y1="540.7" x2="1060.79" y2="547.6" stroke="#000" stroke-width="3.2"/>
<line x1="1069.45" y1="540.7" x2="1069.45" y2="547.6" stroke="#000" stroke-width="3.2"/>
<line x1="1078.12" y1="540.7" x2="1078.12" y2="547.6" stroke="#000" stroke-width="3.2"/>
<line x1="1086.79" y1="540.7" x2="1086.79" y2="547.6" stroke="#000" stroke-width="3.2"/>
<line x1="1095.45" y1="540.7" x2="1095.45" y2="547.6" stroke="#000" stroke-width="3.2"/>
<line x1="1104.12" y1="540.7" x2="1104.12" y2="547.6" stroke="#000" stroke-width="3.2"/>
<line x1="1112.79" y1="540.7" x2="1112.79" y2="547.6" stroke="#000" stroke-width="3.2"/>
<line x1="1121.45" y1="540.7" x2="1121.45" y2="547.6" stroke="#000" stroke-width="3.2"/>
<line x1="1130.12" y1="540.7" x2="1130.12" y2="547.6" stroke="#000" stroke-width="3.2"/>
<line x1="1138.79" y1="540.7" x2="1138.79" y2="547.6" stroke="#000" stroke-width="3.2"/>
<line x1="1147.45" y1="540.7" x2="1147.45" y2="547.6" stroke="#000" stroke-width="3.2"/>
<line x1="1156.12" y1="540.7" x2="1156.12" y2="547.6" stroke="#000" stroke-width="3.2"/>
<line x1="1164.79" y1="540.7" x2="1164.79" y2="547.6" stroke="#000" stroke-width="3.2"/>
<line x1="1173.46" y1="540.7" x2="1173.46" y2="547.6" stroke="#000" stroke-width="3.2"/>
<line x1="1182.12" y1="540.7" x2="1182.12" y2="547.6" stroke="#000" stroke-width="3.2"/>
<line x1="1190.79" y1="540.7" x2="1190.79" y2="547.6" stroke="#000" stroke-width="3.2"/>
<line x1="1199.46" y1="540.7" x2="1199.46" y2="547.6" stroke="#000" stroke-width="3.2"/>
<line x1="1208.12" y1="540.7" x2="1208.12" y2="547.6" stroke="#000" stroke-width="3.2"/>
<line x1="1216.79" y1="540.7" x2="1216.79" y2="547.6" stroke="#000" stroke-width="3.2"/>
<line x1="1225.46" y1="540.7" x2="1225.46" y2="547.6" stroke="#000" stroke-width="3.2"/>
<line x1="1234.12" y1="540.7" x2="1234.12" y2="547.6" stroke="#000" stroke-width="3.2"/>
<line x1="1242.79" y1="540.7" x2="1242.79" y2="547.6" stroke="#000" stroke-width="3.2"/>
<line x1="1251.46" y1="540.7" x2="1251.46" y2="547.6" stroke="#000" stroke-width="3.2"/>
<line x1="1260.13" y1="540.7" x2="1260.13" y2="547.6" stroke="#000" stroke-width="3.2"/>
<line x1="1268.79" y1="540.7" x2="1268.79" y2="547.6" stroke="#000" stroke-width="3.2"/>
<text x="1017.45" y="583.3" font-size="21.3" text-anchor="middle" fill="#000" stroke="#000" stroke-width="0.9" >04:44</text>
<text x="1017.45" y="619.3" font-size="21.3" text-anchor="middle" fill="#000" stroke="#000" stroke-width="0.9" >Time (UT)</text>
<text x="757.8" y="64" font-size="43" text-anchor="start" fill="#fff" stroke="#fff" stroke-width="1" >b)</text>
<rect x="1405.3" y="19.7" width="520" height="521" fill="none" stroke="#000" stroke-width="3.4"/>
<line x1="1391" y1="475.487" x2="1405.3" y2="475.487" stroke="#000" stroke-width="4.6"/>
<text x="1379" y="483.787" font-size="21.3" text-anchor="end" fill="#000" stroke="#000" stroke-width="0.9" >122.5</text>
<line x1="1391" y1="410.675" x2="1405.3" y2="410.675" stroke="#000" stroke-width="4.6"/>
<text x="1379" y="418.975" font-size="21.3" text-anchor="end" fill="#000" stroke="#000" stroke-width="0.9" >125.0</text>
<line x1="1391" y1="345.862" x2="1405.3" y2="345.862" stroke="#000" stroke-width="4.6"/>
<text x="1379" y="354.162" font-size="21.3" text-anchor="end" fill="#000" stroke="#000" stroke-width="0.9" >127.5</text>
<line x1="1391" y1="281.05" x2="1405.3" y2="281.05" stroke="#000" stroke-width="4.6"/>
<text x="1379" y="289.35" font-size="21.3" text-anchor="end" fill="#000" stroke="#000" stroke-width="0.9" >130.0</text>
<line x1="1391" y1="216.237" x2="1405.3" y2="216.237" stroke="#000" stroke-width="4.6"/>
<text x="1379" y="224.537" font-size="21.3" text-anchor="end" fill="#000" stroke="#000" stroke-width="0.9" >132.5</text>
<line x1="1391" y1="151.425" x2="1405.3" y2="151.425" stroke="#000" stroke-width="4.6"/>
<text x="1379" y="159.725" font-size="21.3" text-anchor="end" fill="#000" stroke="#000" stroke-width="0.9" >135.0</text>
<line x1="1391" y1="86.6125" x2="1405.3" y2="86.6125" stroke="#000" stroke-width="4.6"/>
<text x="1379" y="94.9125" font-size="21.3" text-anchor="end" fill="#000" stroke="#000" stroke-width="0.9" >137.5</text>
<line x1="1391" y1="21.8" x2="1405.3" y2="21.8" stroke="#000" stroke-width="4.6"/>
<text x="1379" y="30.1" font-size="21.3" text-anchor="end" fill="#000" stroke="#000" stroke-width="0.9" >140.0</text>
<line x1="1535.7" y1="540.7" x2="1535.7" y2="554.3" stroke="#000" stroke-width="4.6"/>
<text x="1535.7" y="583.3" font-size="21.3" text-anchor="middle" fill="#000" stroke="#000" stroke-width="0.9" >04:44:17</text>
<line x1="1665.8" y1="540.7" x2="1665.8" y2="554.3" stroke="#000" stroke-width="4.6"/>
<text x="1665.8" y="583.3" font-size="21.3" text-anchor="middle" fill="#000" stroke="#000" stroke-width="0.9" >04:44:18</text>
<line x1="1795.9" y1="540.7" x2="1795.9" y2="554.3" stroke="#000" stroke-width="4.6"/>
<text x="1795.9" y="583.3" font-size="21.3" text-anchor="middle" fill="#000" stroke="#000" stroke-width="0.9" >04:44:19</text>
<text x="1665.3" y="619.3" font-size="21.3" text-anchor="middle" fill="#000" stroke="#000" stroke-width="0.9" >Time (UT)</text>
<text x="1405.6" y="64" font-size="43" text-anchor="start" fill="#fff" stroke="#fff" stroke-width="1" >c)</text>
<path d="M213 530 H318.5 V428 H213 Z" fill="none" stroke="#fff" stroke-width="6" stroke-dasharray="20 8.6"/>
<path d="M1156 436.3 H1191 V333 H1156 Z" fill="none" stroke="#fff" stroke-width="6" stroke-dasharray="20 8.6"/>
<line x1="318.5" y1="428" x2="725.917" y2="48.9883" stroke="#000" stroke-width="6.5" stroke-linecap="round"/>
<polygon points="755.936,21.0622 729.901,56.2079 719.003,44.4932" fill="#000" stroke="#000" stroke-width="1.5" stroke-linejoin="miter"/>
<line x1="318.5" y1="530" x2="714.413" y2="539.652" stroke="#000" stroke-width="6.5" stroke-linecap="round"/>
<polygon points="755.401,540.651 712.218,547.601 712.608,531.606" fill="#000" stroke="#000" stroke-width="1.5" stroke-linejoin="miter"/>
<line x1="1191" y1="333" x2="1381.02" y2="55.1915" stroke="#000" stroke-width="6.5" stroke-linecap="round"/>
<polygon points="1404.17,21.3508 1386.5,61.3589 1373.29,52.3258" fill="#000" stroke="#000" stroke-width="1.5" stroke-linejoin="miter"/>
<line x1="1191" y1="436.3" x2="1366.64" y2="521.868" stroke="#000" stroke-width="6.5" stroke-linecap="round"/>
<polygon points="1403.5,539.824 1361.34,528.184 1368.35,513.8" fill="#000" stroke="#000" stroke-width="1.5" stroke-linejoin="miter"/>
<linearGradient id="cbg" x1="0" y1="1" x2="0" y2="0">
<stop offset="0" stop-color="rgb(0,0,150)"/>
<stop offset="0.11" stop-color="rgb(0,0,255)"/>
<stop offset="0.125" stop-color="rgb(0,0,255)"/>
<stop offset="0.34" stop-color="rgb(0,219,255)"/>
<stop offset="0.35" stop-color="rgb(0,229,246)"/>
<stop offset="0.375" stop-color="rgb(20,255,226)"/>
<stop offset="0.64" stop-color="rgb(238,255,9)"/>
<stop offset="0.65" stop-color="rgb(246,245,0)"/>
<stop offset="0.66" stop-color="rgb(255,236,0)"/>
<stop offset="0.89" stop-color="rgb(255,19,0)"/>
<stop offset="0.91" stop-color="rgb(232,0,0)"/>
<stop offset="1" stop-color="rgb(128,0,0)"/>
</linearGradient>
<rect x="1968.8" y="19.7" width="30.5" height="521" fill="url(#cbg)" stroke="#000" stroke-width="3"/>
<line x1="1999.3" y1="540.3" x2="2013.7" y2="540.3" stroke="#000" stroke-width="3.6"/>
<text transform="translate(2026.5,547.1) scale(1,0.92)" font-size="17.6" stroke="#000" stroke-width="0.8">2.00</text>
<line x1="1999.3" y1="475.24" x2="2013.7" y2="475.24" stroke="#000" stroke-width="3.6"/>
<text transform="translate(2026.5,482.04) scale(1,0.92)" font-size="17.6" stroke="#000" stroke-width="0.8">2.25</text>
<line x1="1999.3" y1="410.18" x2="2013.7" y2="410.18" stroke="#000" stroke-width="3.6"/>
<text transform="translate(2026.5,416.98) scale(1,0.92)" font-size="17.6" stroke="#000" stroke-width="0.8">2.50</text>
<line x1="1999.3" y1="345.12" x2="2013.7" y2="345.12" stroke="#000" stroke-width="3.6"/>
<text transform="translate(2026.5,351.92) scale(1,0.92)" font-size="17.6" stroke="#000" stroke-width="0.8">2.75</text>
<line x1="1999.3" y1="280.06" x2="2013.7" y2="280.06" stroke="#000" stroke-width="3.6"/>
<text transform="translate(2026.5,286.86) scale(1,0.92)" font-size="17.6" stroke="#000" stroke-width="0.8">3.00</text>
<line x1="1999.3" y1="215" x2="2013.7" y2="215" stroke="#000" stroke-width="3.6"/>
<text transform="translate(2026.5,221.8) scale(1,0.92)" font-size="17.6" stroke="#000" stroke-width="0.8">3.25</text>
<line x1="1999.3" y1="149.94" x2="2013.7" y2="149.94" stroke="#000" stroke-width="3.6"/>
<text transform="translate(2026.5,156.74) scale(1,0.92)" font-size="17.6" stroke="#000" stroke-width="0.8">3.50</text>
<line x1="1999.3" y1="84.88" x2="2013.7" y2="84.88" stroke="#000" stroke-width="3.6"/>
<text transform="translate(2026.5,91.68) scale(1,0.92)" font-size="17.6" stroke="#000" stroke-width="0.8">3.75</text>
<line x1="1999.3" y1="19.82" x2="2013.7" y2="19.82" stroke="#000" stroke-width="3.6"/>
<text transform="translate(2026.5,26.62) scale(1,0.92)" font-size="17.6" stroke="#000" stroke-width="0.8">4.00</text>
<text transform="translate(1968.6,15) scale(1,0.92)" font-size="17.6" stroke="#000" stroke-width="0.8">log10</text>
</svg></body></html>
